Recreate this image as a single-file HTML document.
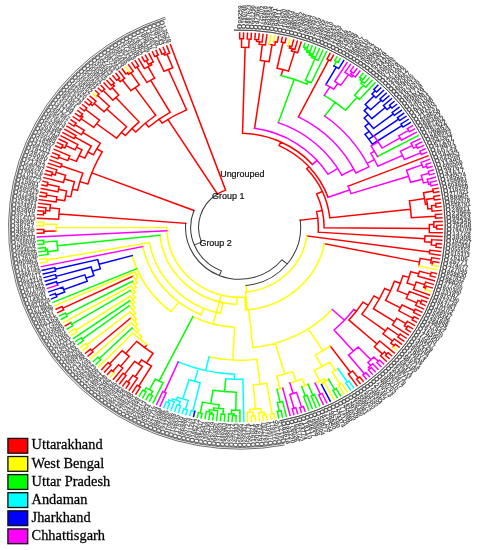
<!DOCTYPE html>
<html><head><meta charset="utf-8"><style>
html,body{margin:0;padding:0;background:#fff;width:477px;height:550px;overflow:hidden}
svg{display:block}
.ring text{font-family:"Liberation Sans",sans-serif;font-size:6px;fill:#454545;font-weight:bold}
.ring text.l{fill:#555}
.ring text.o{font-size:9px;fill:#555}
.ring text.ol{fill:#666}
.lab{font-family:"Liberation Sans",sans-serif;font-size:8.6px;fill:#111;stroke:#111;stroke-width:0.2px}
.leg{font-family:"Liberation Serif",serif;font-size:13.8px;fill:#000;stroke:#000;stroke-width:0.25px}
</style></head><body>
<svg width="477" height="550" viewBox="0 0 457.774 550" preserveAspectRatio="none">
<g fill="none" stroke-width="1.45" stroke-linecap="square">
<path stroke="#ff0000" d="M288.10,220.17L304.98,218.10M303.90,211.65A75.50,75.50 0 0 1 305.38,232.16M303.90,211.65L309.28,210.51M303.86,193.95A81.00,81.00 0 0 1 311.04,227.84M303.86,193.95L309.32,191.48M294.34,168.69A87.00,87.00 0 0 1 316.52,217.79M294.34,168.69L296.55,166.67M267.83,145.62A90.00,90.00 0 0 1 314.86,197.22M267.83,145.62L269.51,141.99M232.75,133.34A94.00,94.00 0 0 1 299.89,164.40M232.75,133.34L235.24,47.38M231.77,47.31A180.00,180.00 0 0 1 238.71,47.51M231.77,47.31L231.86,38.69M230.04,38.69A188.61,188.61 0 0 1 233.67,38.72M230.04,38.69L230.04,33.00M233.67,38.72L233.78,33.04M238.71,47.51L239.11,39.16M237.29,39.08A188.36,188.36 0 0 1 240.92,39.26M237.29,39.08L237.52,33.14M240.92,39.26L241.26,33.32M244.32,128.32L254.03,61.02M249.82,60.47A168.00,168.00 0 0 1 258.23,61.68M249.82,60.47L251.70,44.56M248.62,44.22A184.02,184.02 0 0 1 254.78,44.96M248.62,44.22L248.88,41.70M246.19,41.45A186.55,186.55 0 0 1 251.56,41.99M246.19,41.45L246.35,39.65M244.54,39.51A188.35,188.35 0 0 1 248.16,39.82M244.54,39.51L245.00,33.58M248.16,39.82L248.73,33.90M251.56,41.99L252.45,34.30M254.78,44.96L256.16,34.76M258.23,61.68L261.10,44.82M258.46,44.39A185.11,185.11 0 0 1 263.73,45.29M263.73,45.29L264.37,41.82M262.58,41.50A188.63,188.63 0 0 1 266.16,42.16M266.16,42.16L267.24,36.60M269.87,75.44L271.39,69.63M265.86,68.28A163.00,163.00 0 0 1 276.87,71.17M265.86,68.28L271.68,42.45M269.90,42.06A189.48,189.48 0 0 1 273.46,42.86M269.90,42.06L270.91,37.35M273.46,42.86L274.56,38.17M276.87,71.17L282.66,51.86M279.69,51.00A183.16,183.16 0 0 1 285.61,52.78M279.69,51.00L280.33,48.76M277.74,48.05A185.49,185.49 0 0 1 282.90,49.51M277.74,48.05L278.23,46.22M276.48,45.76A187.38,187.38 0 0 1 279.97,46.69M279.97,46.69L281.81,40.03M282.90,49.51L285.41,41.06M285.61,52.78L288.99,42.16M286.42,116.86L315.52,59.86M313.90,59.04A188.00,188.00 0 0 1 317.13,60.69M313.90,59.04L316.71,53.40M317.13,60.69L320.05,55.11M334.20,186.15L410.75,155.90M316.52,217.79L317.51,217.68M317.51,217.68L394.05,209.26M392.91,200.90A165.00,165.00 0 0 1 394.76,217.67M392.91,200.90L407.46,198.54M406.44,192.78A179.74,179.74 0 0 1 408.31,204.32M406.44,192.78L415.71,190.97M415.36,189.18A189.20,189.20 0 0 1 416.06,192.76M415.36,189.18L420.35,188.15M416.06,192.76L421.07,191.83M408.31,204.32L410.09,204.09M409.41,199.33A181.54,181.54 0 0 1 410.64,208.87M409.41,199.33L416.58,198.21M416.29,196.41A188.80,188.80 0 0 1 416.85,200.01M416.29,196.41L421.72,195.51M416.85,200.01L422.30,199.21M410.64,208.87L414.39,208.48M414.10,205.82A185.31,185.31 0 0 1 414.64,211.15M414.10,205.82L418.29,205.33M418.07,203.52A189.52,189.52 0 0 1 418.49,207.15M418.07,203.52L422.80,202.92M418.49,207.15L423.24,206.64M414.64,211.15L423.60,210.37M394.76,217.67L417.91,216.32M417.79,214.51A188.19,188.19 0 0 1 418.00,218.13M417.79,214.51L423.89,214.10M418.00,218.13L424.11,217.83M311.04,227.84L412.03,228.51M412.02,224.57A182.00,182.00 0 0 1 411.97,232.46M412.02,224.57L416.38,224.50M416.32,221.81A186.36,186.36 0 0 1 416.40,227.19M416.32,221.81L424.25,221.58M416.40,227.19L418.99,227.19M418.98,225.37A188.95,188.95 0 0 1 418.98,229.01M418.98,225.37L424.33,225.32M418.98,229.01L424.33,229.06M411.97,232.46L424.26,232.80M305.38,232.16L407.67,238.77M407.84,235.77A178.00,178.00 0 0 1 407.45,241.76M407.84,235.77L424.12,236.55M407.45,241.76L414.12,242.30M414.32,239.64A184.70,184.70 0 0 1 413.89,244.96M414.32,239.64L423.90,240.28M413.89,244.96L418.55,245.41M418.71,243.59A189.38,189.38 0 0 1 418.36,247.22M418.71,243.59L423.62,244.01M418.36,247.22L423.26,247.74M294.45,236.00L412.38,251.94M412.61,250.18A184.00,184.00 0 0 1 412.14,253.69M412.61,250.18L422.83,251.46M412.14,253.69L422.33,255.17M311.40,243.73L402.55,262.15M403.27,258.40A176.00,176.00 0 0 1 401.76,265.88M403.27,258.40L413.87,260.30M414.32,257.65A186.77,186.77 0 0 1 413.37,262.96M414.32,257.65L421.76,258.87M413.37,262.96L415.15,263.30M415.49,261.52A188.58,188.58 0 0 1 414.80,265.09M415.49,261.52L421.11,262.56M339.59,309.56L341.99,311.36M348.37,302.12A140.00,140.00 0 0 1 334.89,320.07M348.37,302.12L353.44,305.32M358.86,296.01A146.00,146.00 0 0 1 347.35,314.21M358.86,296.01L364.15,298.83M369.16,288.52A152.00,152.00 0 0 1 358.38,308.73M369.16,288.52L374.65,290.94M378.57,281.19A158.00,158.00 0 0 1 370.10,300.42M378.57,281.19L384.21,283.23M386.75,275.65A164.00,164.00 0 0 1 381.30,290.68M386.75,275.65L392.48,277.42M394.13,271.72A170.00,170.00 0 0 1 390.63,283.06M394.13,271.72L401.86,273.81M402.51,271.32A178.00,178.00 0 0 1 401.17,276.29M402.51,271.32L413.43,274.11M413.88,272.34A189.27,189.27 0 0 1 412.97,275.87M413.88,272.34L418.76,273.54M412.97,275.87L417.83,277.16M401.17,276.29L416.84,280.77M390.63,283.06L398.19,285.68M399.42,282.03A178.00,178.00 0 0 1 396.89,289.32M399.42,282.03L407.56,284.66M408.37,282.09A186.56,186.56 0 0 1 406.71,287.22M408.37,282.09L415.77,284.36M406.71,287.22L408.42,287.79M408.99,286.07A188.36,188.36 0 0 1 407.83,289.51M408.99,286.07L414.64,287.93M396.89,289.32L412.16,294.99M381.30,290.68L391.44,294.93M392.87,291.42A175.00,175.00 0 0 1 389.94,298.42M392.87,291.42L410.83,298.49M389.94,298.42L399.99,302.89M401.07,300.42A186.00,186.00 0 0 1 398.88,305.33M401.07,300.42L404.21,301.77M404.92,300.09A189.42,189.42 0 0 1 403.48,303.44M404.92,300.09L409.42,301.96M403.48,303.44L407.95,305.40M398.88,305.33L406.41,308.82M370.10,300.42L384.29,307.82M385.81,304.83A174.00,174.00 0 0 1 382.71,310.78M385.81,304.83L397.74,310.77M398.53,309.15A187.32,187.32 0 0 1 396.93,312.38M398.53,309.15L404.81,312.20M396.93,312.38L403.14,315.55M382.71,310.78L396.48,318.31M397.35,316.70A189.70,189.70 0 0 1 395.60,319.91M397.35,316.70L401.41,318.87M395.60,319.91L399.61,322.15M358.38,308.73L378.65,321.59M380.66,318.35A176.00,176.00 0 0 1 376.57,324.79M380.66,318.35L389.45,323.67M390.83,321.35A186.28,186.28 0 0 1 388.05,325.96M390.83,321.35L397.75,325.40M388.05,325.96L390.52,327.50M391.48,325.95A189.19,189.19 0 0 1 389.55,329.04M391.48,325.95L395.83,328.61M389.55,329.04L393.85,331.79M376.57,324.79L391.81,334.93M347.35,314.21L369.85,330.88M372.06,327.83A174.00,174.00 0 0 1 367.57,333.89M372.06,327.83L382.92,335.52M383.96,334.04A187.31,187.31 0 0 1 381.87,336.99M383.96,334.04L389.70,338.02M381.87,336.99L387.54,341.08M367.57,333.89L376.71,340.97M378.34,338.84A185.56,185.56 0 0 1 375.05,343.08M378.34,338.84L385.32,344.09M375.05,343.08L378.21,345.60M379.34,344.16A189.60,189.60 0 0 1 377.06,347.02M379.34,344.16L383.04,347.06M334.89,320.07L361.85,343.92M364.35,341.04A176.00,176.00 0 0 1 359.29,346.75M364.35,341.04L378.31,352.87M359.29,346.75L367.00,353.88M368.82,351.89A186.50,186.50 0 0 1 365.16,355.84M368.82,351.89L371.18,354.01M372.40,352.65A189.68,189.68 0 0 1 369.96,355.36M372.40,352.65L375.87,355.70M369.96,355.36L373.37,358.49M365.16,355.84L370.81,361.22M316.89,345.90L336.39,372.52M338.48,370.97A180.00,180.00 0 0 1 334.28,374.04M338.48,370.97L343.79,378.00M345.23,376.90A188.81,188.81 0 0 1 342.33,379.09M345.23,376.90L348.58,381.25M342.33,379.09L345.59,383.50M334.28,374.04L342.56,385.70M141.07,344.70L138.83,347.64M146.92,353.37A151.00,151.00 0 0 1 131.14,341.40M146.92,353.37L140.57,363.00M145.36,366.05A162.54,162.54 0 0 1 135.88,359.80M145.36,366.05L133.14,386.07M134.68,386.99A186.00,186.00 0 0 1 131.62,385.13M134.68,386.99L130.42,394.12M131.62,385.13L127.22,392.17M135.88,359.80L132.93,363.96M136.58,366.48A167.65,167.65 0 0 1 129.34,361.34M136.58,366.48L129.70,376.74M131.87,378.17A180.00,180.00 0 0 1 127.55,375.27M131.87,378.17L124.07,390.16M127.55,375.27L122.84,382.07M124.34,383.09A188.26,188.26 0 0 1 121.36,381.03M124.34,383.09L120.95,388.09M121.36,381.03L117.87,385.95M129.34,361.34L119.52,374.41M120.94,375.47A184.00,184.00 0 0 1 118.11,373.34M120.94,375.47L114.84,383.76M118.11,373.34L111.84,381.52M131.14,341.40L120.62,353.54M124.00,356.39A167.06,167.06 0 0 1 117.31,350.60M124.00,356.39L115.79,366.39M117.81,368.03A180.00,180.00 0 0 1 113.79,364.73M117.81,368.03L108.89,379.21M113.79,364.73L108.27,371.25M109.67,372.42A188.54,188.54 0 0 1 106.89,370.07M106.89,370.07L103.13,374.43M117.31,350.60L105.21,363.84M106.53,365.03A185.00,185.00 0 0 1 103.90,362.63M106.53,365.03L100.32,371.96M103.90,362.63L97.56,369.43M125.80,317.73L88.03,350.49M89.22,351.86A188.00,188.00 0 0 1 86.85,349.12M89.22,351.86L84.50,356.03M86.85,349.12L82.05,353.20M67.98,322.59L62.55,325.78M127.85,276.01L60.33,308.20M61.12,309.83A188.00,188.00 0 0 1 59.56,306.56M61.12,309.83L55.46,312.59M59.56,306.56L53.85,309.22M54.08,230.99L42.08,231.24M42.13,233.05A188.00,188.00 0 0 1 42.05,229.43M42.13,233.05L35.83,233.24M42.05,229.43L35.75,229.50M178.19,223.32L56.55,213.99M56.23,219.22A174.00,174.00 0 0 1 57.03,208.77M56.23,219.22L35.95,218.27M57.03,208.77L48.05,207.81M47.75,210.88A183.03,183.03 0 0 1 48.41,204.75M47.75,210.88L43.82,210.53M43.59,213.22A186.97,186.97 0 0 1 44.08,207.84M43.59,213.22L41.78,213.09M41.66,214.90A188.79,188.79 0 0 1 41.93,211.27M41.66,214.90L36.16,214.54M41.93,211.27L36.44,210.80M44.08,207.84L36.79,207.08M48.41,204.75L37.22,203.36M186.16,210.46L88.13,172.83M84.35,183.97A152.00,152.00 0 0 1 98.08,151.85M84.35,183.97L76.68,181.68M74.37,190.34A160.00,160.00 0 0 1 79.47,173.17M74.37,190.34L69.50,189.18M67.89,196.76A165.00,165.00 0 0 1 71.47,181.69M67.89,196.76L62.98,195.84M62.14,200.68A170.00,170.00 0 0 1 63.95,191.02M62.14,200.68L54.23,199.42M53.85,201.97A178.00,178.00 0 0 1 54.66,196.89M53.85,201.97L37.72,199.65M54.66,196.89L44.57,195.14M44.27,196.93A188.24,188.24 0 0 1 44.89,193.35M44.27,196.93L38.28,195.95M44.89,193.35L38.92,192.26M63.95,191.02L56.14,189.32M55.61,191.83A178.00,178.00 0 0 1 56.71,186.81M55.61,191.83L39.63,188.58M56.71,186.81L45.52,184.19M45.12,185.97A189.48,189.48 0 0 1 45.95,182.42M45.12,185.97L40.42,184.92M45.95,182.42L41.27,181.28M71.47,181.69L61.86,178.93M60.85,182.58A175.00,175.00 0 0 1 62.95,175.29M60.85,182.58L42.19,177.65M62.95,175.29L53.75,172.43M52.98,174.98A184.63,184.63 0 0 1 54.57,169.89M52.98,174.98L49.79,174.04M49.29,175.78A187.95,187.95 0 0 1 50.31,172.31M49.29,175.78L43.18,174.04M50.31,172.31L44.24,170.45M54.57,169.89L45.37,166.88M79.47,173.17L58.77,165.73M58.18,167.38A182.00,182.00 0 0 1 59.37,164.08M58.18,167.38L46.57,163.33M59.37,164.08L47.84,159.81M98.08,151.85L92.88,148.87M89.67,154.77A158.00,158.00 0 0 1 96.33,143.13M89.67,154.77L84.34,152.01M81.34,158.13A164.00,164.00 0 0 1 87.59,146.03M81.34,158.13L75.90,155.60M73.33,161.40A170.00,170.00 0 0 1 78.68,149.89M73.33,161.40L65.96,158.30M64.98,160.68A178.00,178.00 0 0 1 66.97,155.93M64.98,160.68L56.21,157.14M55.54,158.81A187.46,187.46 0 0 1 56.89,155.46M55.54,158.81L49.17,156.31M56.89,155.46L50.57,152.84M66.97,155.93L52.04,149.40M78.68,149.89L73.34,147.16M72.01,149.82A176.00,176.00 0 0 1 74.71,144.53M72.01,149.82L63.38,145.58M62.22,148.00A185.61,185.61 0 0 1 64.58,143.18M62.22,148.00L59.53,146.73M58.76,148.37A188.59,188.59 0 0 1 60.31,145.09M58.76,148.37L53.57,145.98M60.31,145.09L55.17,142.60M64.58,143.18L56.84,139.25M74.71,144.53L58.56,135.93M87.59,146.03L71.96,137.11M71.10,138.63A182.00,182.00 0 0 1 72.84,135.59M71.10,138.63L60.36,132.64M72.84,135.59L62.21,129.39M96.33,143.13L79.40,132.47M78.05,134.66A178.00,178.00 0 0 1 80.79,130.30M78.05,134.66L64.13,126.17M80.79,130.30L72.02,124.61M71.04,126.13A188.46,188.46 0 0 1 73.02,123.09M71.04,126.13L66.11,123.00M73.02,123.09L68.15,119.86M208.76,194.02A39.50,39.50 0 0 1 216.53,190.18M208.76,194.02L161.08,119.47M155.57,123.19A128.00,128.00 0 0 1 179.10,109.87M155.57,123.19L152.66,119.12M142.77,126.94A133.00,133.00 0 0 1 163.25,112.28M142.77,126.94L139.49,123.16M130.29,131.93A138.00,138.00 0 0 1 149.45,115.28M130.29,131.93L126.68,128.48M120.36,135.54A143.00,143.00 0 0 1 133.44,121.86M120.36,135.54L116.53,132.33M111.87,138.19A148.00,148.00 0 0 1 121.48,126.71M111.87,138.19L92.71,123.74M90.02,127.41A172.00,172.00 0 0 1 95.50,120.14M90.02,127.41L77.86,118.74M76.30,120.95A186.94,186.94 0 0 1 79.44,116.55M76.30,120.95L70.25,116.76M79.44,116.55L77.99,115.48M76.92,116.95A188.74,188.74 0 0 1 79.07,114.02M76.92,116.95L72.41,113.70M79.07,114.02L74.63,110.68M95.50,120.14L82.09,109.45M80.96,110.88A189.15,189.15 0 0 1 83.23,108.03M80.96,110.88L76.90,107.71M83.23,108.03L79.23,104.78M121.48,126.71L102.40,109.04M99.87,111.83A174.00,174.00 0 0 1 105.00,106.30M99.87,111.83L90.34,103.38M88.57,105.41A186.74,186.74 0 0 1 92.15,101.38M88.57,105.41L86.79,103.88M85.60,105.27A189.09,189.09 0 0 1 87.98,102.51M85.60,105.27L81.62,101.90M87.98,102.51L84.06,99.06M92.15,101.38L86.56,96.28M105.00,106.30L93.73,95.40M92.47,96.72A189.67,189.67 0 0 1 95.01,94.10M95.01,94.10L91.72,90.85M133.44,121.86L111.15,97.52M108.37,100.13A176.00,176.00 0 0 1 113.99,94.98M108.37,100.13L99.13,90.48M97.82,91.75A189.36,189.36 0 0 1 100.46,89.22M97.82,91.75L94.37,88.21M100.46,89.22L97.08,85.62M113.99,94.98L107.70,87.80M105.70,89.59A185.54,185.54 0 0 1 109.73,86.05M105.70,89.59L99.83,83.08M109.73,86.05L108.21,84.26M106.84,85.44A187.89,187.89 0 0 1 109.59,83.09M106.84,85.44L102.63,80.60M109.59,83.09L105.48,78.17M149.45,115.28L129.59,87.68M125.60,90.64A172.00,172.00 0 0 1 133.67,84.83M125.60,90.64L117.45,79.97M115.33,81.61A185.43,185.43 0 0 1 119.59,78.36M115.33,81.61L113.43,79.19M112.01,80.32A188.50,188.50 0 0 1 114.86,78.08M112.01,80.32L108.38,75.80M114.86,78.08L111.32,73.49M119.59,78.36L114.31,71.23M133.67,84.83L125.59,72.88M123.37,74.40A186.43,186.43 0 0 1 127.83,71.39M123.37,74.40L122.34,72.93M120.85,73.97A188.23,188.23 0 0 1 123.83,71.90M120.85,73.97L117.33,69.03M127.83,71.39L123.51,64.80M163.25,112.28L144.67,80.29M140.98,82.49A170.00,170.00 0 0 1 148.42,78.18M140.98,82.49L131.46,67.01M129.92,67.97A188.18,188.18 0 0 1 133.01,66.07M129.92,67.97L126.66,62.78M133.01,66.07L129.85,60.82M148.42,78.18L142.09,66.62M138.63,68.57A183.17,183.17 0 0 1 145.60,64.75M138.63,68.57L133.08,58.92M145.60,64.75L144.77,63.16M142.40,64.41A184.97,184.97 0 0 1 147.15,61.94M142.40,64.41L140.41,60.70M138.81,61.58A189.17,189.17 0 0 1 142.02,59.85M138.81,61.58L136.34,57.08M142.02,59.85L139.64,55.31M147.15,61.94L142.97,53.60M179.10,109.87L161.59,69.51M157.44,71.37A172.00,172.00 0 0 1 165.80,67.75M157.44,71.37L150.18,55.78M148.53,56.56A189.20,189.20 0 0 1 151.83,55.02M148.53,56.56L146.33,51.96M151.83,55.02L149.72,50.38M165.80,67.75L160.31,54.12M157.82,55.15A186.69,186.69 0 0 1 162.82,53.13M157.82,55.15L157.12,53.49M155.45,54.20A188.49,188.49 0 0 1 158.80,52.80M155.45,54.20L153.15,48.86M158.80,52.80L156.60,47.41M162.82,53.13L160.08,46.03M216.53,190.18L163.58,44.72"/>
<path stroke="#ffff00" d="M258.46,44.39L259.87,35.30M262.58,41.50L263.56,35.91M276.48,45.76L278.20,39.06M236.15,285.48L236.83,291.94M294.45,236.00A65.00,65.00 0 0 1 235.70,292.05M235.70,292.05L237.27,309.98M311.40,243.73A83.00,83.00 0 0 1 235.83,310.10M414.80,265.09L420.40,266.23M401.76,265.88L419.61,269.89M238.71,309.85L242.69,347.64M318.88,309.44A121.00,121.00 0 0 1 242.69,347.64M407.83,289.51L413.43,291.47M377.06,347.02L380.70,349.99M295.77,328.89L299.58,334.76M299.58,334.76L309.90,350.72M316.89,345.90A147.00,147.00 0 0 1 302.63,355.12M302.63,355.12L309.05,366.43M316.31,362.05A160.00,160.00 0 0 1 301.58,370.42M316.31,362.05L321.66,370.40M324.40,368.61A169.92,169.92 0 0 1 318.89,372.14M318.89,372.14L326.25,384.14M327.76,383.21A184.00,184.00 0 0 1 324.73,385.06M327.76,383.21L333.23,391.94M324.73,385.06L330.03,393.89M301.58,370.42L306.91,381.10M311.33,378.81A171.94,171.94 0 0 1 302.44,383.25M311.33,378.81L312.47,380.95M315.42,379.33A174.36,174.36 0 0 1 309.50,382.51M309.50,382.51L310.10,383.68M311.60,382.90A175.68,175.68 0 0 1 308.59,384.45M311.60,382.90L320.24,399.39M264.23,343.37L273.28,374.06M280.82,371.63A153.00,153.00 0 0 1 265.62,376.10M280.82,371.63L284.14,381.06M290.02,378.86A163.00,163.00 0 0 1 278.17,383.03M290.02,378.86L292.66,385.54M295.70,384.30A170.18,170.18 0 0 1 289.60,386.72M265.62,376.10L268.65,388.75M271.36,388.07A166.00,166.00 0 0 1 265.92,389.38M235.83,310.10L234.92,297.13M234.92,297.13A70.00,70.00 0 0 1 160.04,227.42M212.18,294.98L204.53,323.99M225.06,327.18A100.00,100.00 0 0 1 185.10,316.63M225.06,327.18L223.42,360.14M246.48,359.28A133.00,133.00 0 0 1 200.56,356.99M246.48,359.28L249.57,384.09M255.97,383.16A158.00,158.00 0 0 1 243.14,384.76M255.97,383.16L261.14,414.18M262.94,413.87A189.45,189.45 0 0 1 259.34,414.47M262.94,413.87L263.78,418.65M259.34,414.47L260.09,419.26M243.14,384.76L245.16,408.99M250.40,408.48A182.32,182.32 0 0 1 239.90,409.35M250.40,408.48L250.86,412.57M253.54,412.25A186.44,186.44 0 0 1 248.18,412.85M253.54,412.25L253.87,414.88M255.67,414.64A189.08,189.08 0 0 1 252.06,415.10M255.67,414.64L256.38,419.81M252.06,415.10L252.67,420.28M248.18,412.85L248.95,420.68M239.90,409.35L240.05,412.06M242.72,411.90A185.03,185.03 0 0 1 237.38,412.19M242.72,411.90L242.99,415.85M244.80,415.72A189.00,189.00 0 0 1 241.17,415.97M244.80,415.72L245.22,421.01M241.17,415.97L241.48,421.26M237.38,412.19L237.74,421.45M227.60,297.26L227.35,304.25M227.35,304.25A77.00,77.00 0 0 1 153.46,235.39M214.03,302.62L211.74,313.38M211.74,313.38A88.00,88.00 0 0 1 143.38,242.63M195.65,308.30L192.92,314.75M192.92,314.75A95.00,95.00 0 0 1 137.01,246.55M171.55,302.16L164.16,311.62M164.16,311.62A107.00,107.00 0 0 1 126.84,255.55M133.58,273.61A107.00,107.00 0 0 1 131.35,268.64M133.58,273.61L130.78,274.95M132.34,278.07A110.10,110.10 0 0 1 129.33,271.79M132.34,278.07L129.59,279.50M131.45,282.93A113.20,113.20 0 0 1 127.85,276.01M131.45,282.93L128.75,284.45M130.53,287.50A116.30,116.30 0 0 1 127.06,281.35M130.53,287.50L127.88,289.11M129.90,292.32A119.40,119.40 0 0 1 125.97,285.82M129.90,292.32L127.30,294.01M129.68,297.54A122.50,122.50 0 0 1 125.04,290.40M129.68,297.54L127.14,299.32M129.42,302.47A125.60,125.60 0 0 1 124.96,296.10M129.42,302.47L126.93,304.32M129.53,307.69A128.70,128.70 0 0 1 124.45,300.88M129.53,307.69L127.11,309.62M130.23,313.38A131.80,131.80 0 0 1 124.13,305.75M130.23,313.38L127.89,315.41M131.10,319.00A134.90,134.90 0 0 1 124.81,311.71M131.10,319.00L128.82,321.10M131.96,324.38A138.00,138.00 0 0 1 125.80,317.73M131.96,324.38L129.76,326.56M133.48,330.18A141.10,141.10 0 0 1 126.17,322.80M133.48,330.18L131.35,332.44M136.15,336.75A144.20,144.20 0 0 1 126.75,327.93M136.15,336.75L134.13,339.10M141.07,344.70A147.30,147.30 0 0 1 127.55,333.10M109.67,372.42L105.99,376.85M127.55,333.10L94.84,366.85M126.17,322.80L87.01,358.81M124.81,311.71L83.39,344.93M84.53,346.34A188.00,188.00 0 0 1 82.26,343.51M84.53,346.34L79.65,350.33M82.26,343.51L77.31,347.41M124.96,296.10L72.75,330.28M73.75,331.79A188.00,188.00 0 0 1 71.77,328.76M73.75,331.79L68.51,335.29M71.77,328.76L66.46,332.16M125.97,285.82L60.68,322.54M129.33,271.79L52.30,305.81M143.38,242.63L44.91,260.05M45.24,261.83A188.00,188.00 0 0 1 44.61,258.27M45.24,261.83L39.04,262.99M44.61,258.27L38.39,259.30M160.04,227.42L54.04,227.60M54.08,230.99A176.00,176.00 0 0 1 54.07,224.21M54.07,224.21L42.07,224.00M42.04,225.81A188.00,188.00 0 0 1 42.11,222.19M42.04,225.81L35.74,225.76M42.11,222.19L35.81,222.02M92.47,96.72L89.11,93.54M123.83,71.90L120.40,66.89"/>
<path stroke="#00ff00" d="M267.09,122.67L282.44,79.30M269.87,75.44A157.00,157.00 0 0 1 294.65,84.21M294.65,84.21L295.89,81.48M293.11,80.26A160.00,160.00 0 0 1 298.64,82.75M293.11,80.26L302.25,58.96M299.09,57.64A183.18,183.18 0 0 1 305.38,60.33M299.09,57.64L299.77,55.97M296.67,54.74A184.98,184.98 0 0 1 302.85,57.26M296.67,54.74L297.31,53.06M294.37,51.95A186.78,186.78 0 0 1 300.24,54.22M294.37,51.95L294.99,50.26M292.42,49.34A188.58,188.58 0 0 1 297.54,51.22M292.42,49.34L293.02,47.64M291.28,47.04A190.38,190.38 0 0 1 294.75,48.26M291.28,47.04L292.55,43.33M294.75,48.26L296.08,44.57M297.54,51.22L299.59,45.87M300.24,54.22L303.07,47.25M302.85,57.26L306.52,48.69M305.38,60.33L309.95,50.19M298.64,82.75L313.35,51.77M311.68,116.04L321.74,102.34M311.33,95.33A155.00,155.00 0 0 1 331.55,110.17M320.44,65.89L322.89,61.53M321.28,60.64A190.00,190.00 0 0 1 324.48,62.43M321.28,60.64L323.35,56.87M324.48,62.43L326.62,58.70M331.55,110.17L342.68,97.32M340.32,95.31A172.00,172.00 0 0 1 345.01,99.37M340.32,95.31L348.71,85.27M346.29,83.29A185.08,185.08 0 0 1 351.08,87.29M346.29,83.29L347.67,81.58M345.55,79.89A187.28,187.28 0 0 1 349.77,83.29M345.55,79.89L346.66,78.48M345.23,77.36A189.08,189.08 0 0 1 348.09,79.61M345.23,77.36L348.41,73.22M348.09,79.61L351.35,75.53M349.77,83.29L354.26,77.89M351.08,87.29L357.11,80.31M345.01,99.37L359.92,82.79M362.26,156.46L401.30,135.54M315.42,379.33L321.11,389.48M322.67,388.59A186.00,186.00 0 0 1 319.55,390.35M322.67,388.59L326.81,395.79M319.55,390.35L323.54,397.62M295.70,384.30L300.26,395.21M301.87,394.52A182.00,182.00 0 0 1 298.64,395.88M301.87,394.52L306.73,405.83M298.64,395.88L303.27,407.27M289.60,386.72L293.04,395.92M294.66,395.30A180.00,180.00 0 0 1 291.41,396.51M294.66,395.30L299.79,408.65M291.41,396.51L296.29,409.96M265.92,389.38L268.73,402.07M271.25,401.49A179.00,179.00 0 0 1 266.20,402.61M271.25,401.49L274.78,416.38M266.20,402.61L267.94,411.05M269.71,410.68A187.62,187.62 0 0 1 266.17,411.41M269.71,410.68L271.12,417.21M266.17,411.41L267.46,417.96M216.64,378.71L215.49,391.66M226.65,392.27A165.00,165.00 0 0 1 204.40,390.30M226.65,392.27L226.28,410.13M230.25,410.17A182.87,182.87 0 0 1 222.32,410.01M230.25,410.17L230.26,421.60M222.32,410.01L222.16,413.84M224.85,413.93A186.71,186.71 0 0 1 219.46,413.71M224.85,413.93L224.80,415.73M226.62,415.77A188.51,188.51 0 0 1 222.99,415.67M226.62,415.77L226.52,421.57M222.99,415.67L222.77,421.46M219.46,413.71L219.03,421.29M204.40,390.30L202.31,403.59M210.30,404.66A178.45,178.45 0 0 1 194.38,402.16M210.30,404.66L209.88,408.41M214.46,408.86A182.23,182.23 0 0 1 205.31,407.85M214.46,408.86L214.01,414.11M215.81,414.26A187.50,187.50 0 0 1 212.22,413.95M215.81,414.26L215.30,421.04M212.22,413.95L211.57,420.72M205.31,407.85L204.98,410.20M208.95,410.70A184.61,184.61 0 0 1 201.02,409.62M208.95,410.70L207.85,420.33M201.02,409.62L200.67,411.82M203.34,412.23A186.84,186.84 0 0 1 198.01,411.38M203.34,412.23L203.09,414.01M204.89,414.26A188.64,188.64 0 0 1 201.29,413.74M204.89,414.26L204.13,419.87M201.29,413.74L200.43,419.33M198.01,411.38L196.73,418.72M194.38,402.16L192.16,413.03M193.95,413.39A189.55,189.55 0 0 1 190.38,412.66M193.95,413.39L193.05,418.05M190.38,412.66L189.38,417.30M185.10,316.63L176.56,333.61M176.56,333.61L152.74,380.95M156.47,382.77A172.00,172.00 0 0 1 149.07,379.05M156.47,382.77L146.93,402.93M149.07,379.05L143.43,389.60M146.58,391.24A183.96,183.96 0 0 1 140.32,387.90M146.58,391.24L144.74,394.85M146.36,395.67A188.02,188.02 0 0 1 143.13,394.02M146.36,395.67L143.56,401.29M143.13,394.02L140.22,399.60M140.32,387.90L138.65,390.89M140.23,391.77A187.39,187.39 0 0 1 137.08,390.01M140.23,391.77L136.92,397.83M137.08,390.01L133.65,396.01M126.75,327.93L95.38,358.49M96.65,359.78A188.00,188.00 0 0 1 94.12,357.19M96.65,359.78L92.18,364.22M94.12,357.19L89.57,361.54M124.13,305.75L78.96,339.20M80.05,340.65A188.00,188.00 0 0 1 77.89,337.73M80.05,340.65L75.02,344.44M77.89,337.73L72.79,341.44M124.45,300.88L70.62,338.38M125.04,290.40L68.90,324.15M69.84,325.69A188.00,188.00 0 0 1 67.98,322.59M69.84,325.69L64.47,328.99M127.06,281.35L63.58,314.68M64.43,316.27A188.00,188.00 0 0 1 62.74,313.07M64.43,316.27L58.88,319.26M62.74,313.07L57.14,315.94M131.35,268.64L50.82,302.37M153.46,235.39L55.01,245.79M55.56,250.42A176.00,176.00 0 0 1 54.58,241.15M55.56,250.42L45.78,251.72M46.15,254.38A185.87,185.87 0 0 1 45.44,249.05M46.15,254.38L37.81,255.61M45.44,249.05L43.65,249.26M43.87,251.06A187.67,187.67 0 0 1 43.45,247.47M43.87,251.06L37.30,251.90M43.45,247.47L36.86,248.18M54.58,241.15L41.92,242.15M42.08,243.96A188.70,188.70 0 0 1 41.79,240.33M42.08,243.96L36.50,244.45M41.79,240.33L36.20,240.72"/>
<path stroke="#00ffff" d="M324.40,368.61L333.33,381.98M334.82,380.98A186.00,186.00 0 0 1 331.84,382.97M334.82,380.98L339.49,387.84M331.84,382.97L336.38,389.92M200.56,356.99L197.45,370.64M225.05,374.22A147.00,147.00 0 0 1 171.03,361.93M225.05,374.22L224.88,379.21M233.14,379.27A152.00,152.00 0 0 1 216.64,378.71M233.14,379.27L234.00,421.56M190.26,368.82L186.74,381.33M192.05,382.73A160.00,160.00 0 0 1 181.48,379.75M192.05,382.73L185.16,410.92M186.93,411.34A189.02,189.02 0 0 1 183.40,410.48M183.40,410.48L182.09,415.59M181.48,379.75L175.38,398.92M180.57,400.49A180.11,180.11 0 0 1 170.24,397.19M180.57,400.49L178.00,409.49M179.75,409.98A189.48,189.48 0 0 1 176.24,408.98M179.75,409.98L178.47,414.63M176.24,408.98L174.88,413.60M170.24,397.19L169.18,400.19M172.95,401.47A183.29,183.29 0 0 1 165.45,398.83M172.95,401.47L171.68,405.33M173.40,405.88A187.35,187.35 0 0 1 169.97,404.76M173.40,405.88L171.30,412.51M169.97,404.76L167.74,411.34M165.45,398.83L164.70,400.84M167.21,401.76A185.43,185.43 0 0 1 162.19,399.88M167.21,401.76L164.21,410.11M162.19,399.88L161.15,402.53M162.84,403.19A188.28,188.28 0 0 1 159.47,401.86M162.84,403.19L160.70,408.80M159.47,401.86L157.21,407.44"/>
<path stroke="#0000ff" d="M312.74,84.52L322.77,67.22M320.44,65.89A185.00,185.00 0 0 1 325.07,68.57M325.07,68.57L329.85,60.59M358.80,135.73L353.91,139.21M350.33,134.38A152.00,152.00 0 0 1 357.30,144.18M350.33,134.38L354.28,131.32M350.28,126.35A157.00,157.00 0 0 1 358.08,136.45M350.28,126.35L354.11,123.14M349.55,117.93A162.00,162.00 0 0 1 358.45,128.54M349.55,117.93L353.24,114.55M349.51,110.61A167.00,167.00 0 0 1 356.84,118.62M349.51,110.61L353.08,107.12M350.45,104.48A172.00,172.00 0 0 1 355.66,109.81M350.45,104.48L358.85,95.91M356.94,94.06A184.00,184.00 0 0 1 360.73,97.78M356.94,94.06L360.04,90.80M358.72,89.56A188.50,188.50 0 0 1 361.35,92.06M358.72,89.56L362.68,85.32M361.35,92.06L365.39,87.90M360.73,97.78L368.05,90.53M355.66,109.81L365.88,100.25M364.65,98.95A186.00,186.00 0 0 1 367.10,101.56M364.65,98.95L370.66,93.22M367.10,101.56L373.22,95.95M356.84,118.62L369.74,107.56M368.00,105.55A184.00,184.00 0 0 1 371.46,109.59M368.00,105.55L375.72,98.73M371.46,109.59L375.00,106.64M373.83,105.25A188.60,188.60 0 0 1 376.15,108.04M373.83,105.25L378.17,101.56M376.15,108.04L380.57,104.44M358.45,128.54L377.47,113.90M376.37,112.49A186.00,186.00 0 0 1 378.56,115.33M376.37,112.49L382.90,107.36M378.56,115.33L385.19,110.33M358.08,136.45L382.55,119.09M381.50,117.62A187.00,187.00 0 0 1 383.58,120.56M381.50,117.62L387.41,113.34M383.58,120.56L389.58,116.40M357.30,144.18L385.77,125.59M384.78,124.10A186.00,186.00 0 0 1 386.74,127.10M384.78,124.10L391.68,119.49M386.74,127.10L393.73,122.62M308.59,384.45L316.91,401.10M186.93,411.34L185.73,416.48M126.84,255.55L95.01,264.27M96.36,268.88A140.00,140.00 0 0 1 93.82,259.61M96.36,268.88L88.72,271.25M90.10,275.49A148.00,148.00 0 0 1 87.46,266.98M90.10,275.49L82.54,278.09M83.67,281.28A156.00,156.00 0 0 1 81.47,274.88M83.67,281.28L61.16,289.58M62.07,292.02A180.00,180.00 0 0 1 60.27,287.14M62.07,292.02L53.81,295.20M54.47,296.89A188.86,188.86 0 0 1 53.17,293.50M54.47,296.89L49.41,298.90M53.17,293.50L48.07,295.41M60.27,287.14L46.79,291.89M81.47,274.88L54.81,283.42M55.36,285.11A184.00,184.00 0 0 1 54.27,281.73M54.27,281.73L44.44,284.78M87.46,266.98L53.74,276.36M54.22,278.06A183.00,183.00 0 0 1 53.27,274.66M54.22,278.06L43.36,281.19M53.27,274.66L42.36,277.59M93.82,259.61L52.95,269.31M53.37,271.01A182.00,182.00 0 0 1 52.56,267.60M53.37,271.01L41.43,273.96M52.56,267.60L40.56,270.32"/>
<path stroke="#ff00ff" d="M299.89,164.40L304.35,160.39M244.32,128.32A100.00,100.00 0 0 1 314.84,174.31M314.84,174.31L324.17,168.48M267.09,122.67A111.00,111.00 0 0 1 328.05,175.19M328.05,175.19L339.52,169.09M286.42,116.86A124.00,124.00 0 0 1 341.49,172.94M341.49,172.94L354.07,166.80M311.68,116.04A138.00,138.00 0 0 1 354.07,166.80M311.33,95.33L316.58,86.82M312.74,84.52A165.00,165.00 0 0 1 320.35,89.21M320.35,89.21L324.18,83.35M321.22,81.46A172.00,172.00 0 0 1 327.11,85.31M321.22,81.46L333.04,62.55M327.11,85.31L334.46,74.57M331.12,72.34A185.01,185.01 0 0 1 337.74,76.87M331.12,72.34L336.19,64.56M337.74,76.87L338.79,75.40M336.58,73.85A186.81,186.81 0 0 1 340.97,76.99M336.58,73.85L337.78,72.12M336.28,71.09A188.92,188.92 0 0 1 339.27,73.16M336.28,71.09L339.31,66.64M339.27,73.16L342.38,68.77M340.97,76.99L345.42,70.97M352.33,163.36L359.42,159.65M355.87,153.26A146.00,146.00 0 0 1 362.65,166.22M355.87,153.26L359.32,151.23M356.17,146.12A150.00,150.00 0 0 1 362.26,156.46M356.17,146.12L362.90,141.79M358.80,135.73A158.00,158.00 0 0 1 366.71,148.03M366.71,148.03L384.01,137.99M382.71,135.78A178.00,178.00 0 0 1 385.29,140.23M382.71,135.78L391.91,130.27M390.96,128.71A188.72,188.72 0 0 1 392.83,131.83M390.96,128.71L395.72,125.80M392.83,131.83L397.64,129.01M385.29,140.23L399.51,132.26M362.65,166.22L386.26,155.34M384.30,151.23A172.00,172.00 0 0 1 388.11,159.50M384.30,151.23L395.62,145.64M394.42,143.26A184.62,184.62 0 0 1 396.78,148.05M394.42,143.26L403.04,138.85M396.78,148.05L399.84,146.59M399.05,144.96A188.00,188.00 0 0 1 400.61,148.23M399.05,144.96L404.71,142.20M400.61,148.23L406.32,145.58M388.11,159.50L403.68,152.82M402.96,151.15A188.94,188.94 0 0 1 404.39,154.50M402.96,151.15L407.86,149.00M404.39,154.50L409.34,152.44M314.86,197.22L329.00,192.21M329.00,192.21L335.60,189.87M334.20,186.15A112.00,112.00 0 0 1 336.86,193.64M336.86,193.64L392.18,176.21M390.16,170.20A170.00,170.00 0 0 1 393.97,182.30M390.16,170.20L405.02,164.90M404.10,162.38A185.78,185.78 0 0 1 405.91,167.43M404.10,162.38L412.09,159.40M405.91,167.43L409.46,166.22M408.86,164.50A189.53,189.53 0 0 1 410.04,167.96M408.86,164.50L413.36,162.92M410.04,167.96L414.57,166.46M393.97,182.30L405.33,179.18M404.25,175.40A181.78,181.78 0 0 1 406.34,182.99M404.25,175.40L411.59,173.21M411.06,171.46A189.44,189.44 0 0 1 412.11,174.96M411.06,171.46L415.71,170.03M412.11,174.96L416.78,173.62M406.34,182.99L410.73,181.89M410.06,179.28A186.31,186.31 0 0 1 411.37,184.50M410.06,179.28L417.77,177.22M411.37,184.50L413.12,184.09M412.69,182.33A188.11,188.11 0 0 1 413.53,185.86M412.69,182.33L418.70,180.85M413.53,185.86L419.56,184.49M318.88,309.44L330.63,320.31M339.59,309.56A137.00,137.00 0 0 1 320.62,330.08M320.62,330.08L339.14,351.08M343.68,346.93A165.00,165.00 0 0 1 334.44,355.07M343.68,346.93L355.96,359.85M358.80,357.09A182.83,182.83 0 0 1 353.06,362.55M358.80,357.09L362.99,361.31M364.28,360.02A188.77,188.77 0 0 1 361.69,362.59M364.28,360.02L368.21,363.91M361.69,362.59L365.55,366.55M353.06,362.55L355.75,365.51M357.74,363.68A186.83,186.83 0 0 1 353.74,367.31M357.74,363.68L362.84,369.13M353.74,367.31L354.93,368.66M356.29,367.45A188.63,188.63 0 0 1 353.57,369.86M356.29,367.45L360.08,371.66M353.57,369.86L357.28,374.14M334.44,355.07L349.70,373.74M351.11,372.58A189.12,189.12 0 0 1 348.29,374.89M351.11,372.58L354.43,376.57M348.29,374.89L351.53,378.93M302.44,383.25L307.52,394.19M309.12,393.44A184.00,184.00 0 0 1 305.91,394.93M309.12,393.44L313.55,402.74M305.91,394.93L310.15,404.31M278.17,383.03L281.42,393.54M284.61,392.52A174.00,174.00 0 0 1 278.21,394.50M284.61,392.52L289.44,407.14M291.17,406.56A189.39,189.39 0 0 1 287.71,407.70M291.17,406.56L292.75,411.20M287.71,407.70L289.20,412.37M278.21,394.50L282.16,408.23M283.90,407.72A188.29,188.29 0 0 1 280.42,408.73M283.90,407.72L285.62,413.48M280.42,408.73L282.03,414.52M271.36,388.07L278.41,415.48M171.03,361.93L157.78,392.16M159.37,392.85A180.00,180.00 0 0 1 156.19,391.45M159.37,392.85L153.75,406.00M156.19,391.45L150.33,404.50M55.36,285.11L45.58,288.35M137.01,246.55L39.77,266.66M160.13,230.79L35.98,236.99"/>
<path stroke="#3a3a3a" stroke-width="1.0" d="M193.41,242.10A39.50,39.50 0 0 1 208.76,194.02M193.41,242.10L186.46,244.91M212.43,270.88A47.00,47.00 0 0 1 186.16,210.46M212.43,270.88L210.56,275.51M270.62,259.81A52.00,52.00 0 0 1 178.19,223.32M270.62,259.81L275.69,263.88M288.10,220.17A58.50,58.50 0 0 1 236.15,285.48"/>
</g>
<g fill="none" stroke="#444" stroke-width="0.75">
<path d="M224.53,30.08A197.30,197.30 0 0 1 268.36,420.84"/><path d="M224.53,30.08A197.30,197.30 0 0 1 268.36,420.84"/><path d="M272.81,443.31A220.20,220.20 0 0 1 159.08,18.85"/><path d="M273.14,444.97A221.90,221.90 0 0 1 158.53,17.24"/>
</g>
<g class="ring">
<text x="230.04" y="23.40" transform="rotate(-90.00 230.04 23.40)" dy="2.15" textLength="17.9" lengthAdjust="spacingAndGlyphs">98259</text>
<text class="o" x="230.04" y="26.40" transform="rotate(-90.00 230.04 26.40)" dy="2.35" text-anchor="middle">o</text>
<text x="233.97" y="23.44" transform="rotate(-88.90 233.97 23.44)" dy="2.15" textLength="18.4" lengthAdjust="spacingAndGlyphs">190748</text>
<text class="o" x="233.91" y="26.44" transform="rotate(-88.90 233.91 26.44)" dy="2.35" text-anchor="middle">o</text>
<text x="237.89" y="23.55" transform="rotate(-87.79 237.89 23.55)" dy="2.15" textLength="18.9" lengthAdjust="spacingAndGlyphs">887623</text>
<text class="o" x="237.78" y="26.55" transform="rotate(-87.79 237.78 26.55)" dy="2.35" text-anchor="middle">o</text>
<text x="241.82" y="23.74" transform="rotate(-86.69 241.82 23.74)" dy="2.15" textLength="18.5" lengthAdjust="spacingAndGlyphs">601290</text>
<text class="o" x="241.64" y="26.74" transform="rotate(-86.69 241.64 26.74)" dy="2.35" text-anchor="middle">o</text>
<text x="245.74" y="24.01" transform="rotate(-85.58 245.74 24.01)" dy="2.15" textLength="17.8" lengthAdjust="spacingAndGlyphs">47966</text>
<text class="o" x="245.51" y="27.00" transform="rotate(-85.58 245.51 27.00)" dy="2.35" text-anchor="middle">o</text>
<text x="249.65" y="24.35" transform="rotate(-84.48 249.65 24.35)" dy="2.15" textLength="18.7" lengthAdjust="spacingAndGlyphs">725102</text>
<text class="o" x="249.36" y="27.33" transform="rotate(-84.48 249.36 27.33)" dy="2.35" text-anchor="middle">o</text>
<text x="253.56" y="24.76" transform="rotate(-83.38 253.56 24.76)" dy="2.15" textLength="18.6" lengthAdjust="spacingAndGlyphs">646869</text>
<text class="o" x="253.21" y="27.74" transform="rotate(-83.38 253.21 27.74)" dy="2.35" text-anchor="middle">o</text>
<text x="257.45" y="25.25" transform="rotate(-82.27 257.45 25.25)" dy="2.15" textLength="19.2" lengthAdjust="spacingAndGlyphs">693504</text>
<text class="o" x="257.05" y="28.22" transform="rotate(-82.27 257.05 28.22)" dy="2.35" text-anchor="middle">o</text>
<text x="261.34" y="25.82" transform="rotate(-81.17 261.34 25.82)" dy="2.15" textLength="18.2" lengthAdjust="spacingAndGlyphs">58991</text>
<text class="o" x="260.88" y="28.78" transform="rotate(-81.17 260.88 28.78)" dy="2.35" text-anchor="middle">o</text>
<text x="265.22" y="26.46" transform="rotate(-80.06 265.22 26.46)" dy="2.15" textLength="17.9" lengthAdjust="spacingAndGlyphs">94411</text>
<text class="o" x="264.70" y="29.41" transform="rotate(-80.06 264.70 29.41)" dy="2.35" text-anchor="middle">o</text>
<text x="269.08" y="27.17" transform="rotate(-78.96 269.08 27.17)" dy="2.15" textLength="18.6" lengthAdjust="spacingAndGlyphs">151620</text>
<text class="o" x="268.51" y="30.12" transform="rotate(-78.96 268.51 30.12)" dy="2.35" text-anchor="middle">o</text>
<text x="272.93" y="27.96" transform="rotate(-77.86 272.93 27.96)" dy="2.15" textLength="19.0" lengthAdjust="spacingAndGlyphs">109906</text>
<text class="o" x="272.30" y="30.89" transform="rotate(-77.86 272.30 30.89)" dy="2.35" text-anchor="middle">o</text>
<text x="276.76" y="28.83" transform="rotate(-76.75 276.76 28.83)" dy="2.15" textLength="18.3" lengthAdjust="spacingAndGlyphs">848304</text>
<text class="o" x="276.07" y="31.75" transform="rotate(-76.75 276.07 31.75)" dy="2.35" text-anchor="middle">o</text>
<text x="280.58" y="29.76" transform="rotate(-75.65 280.58 29.76)" dy="2.15" textLength="17.8" lengthAdjust="spacingAndGlyphs">98036</text>
<text class="o" x="279.83" y="32.67" transform="rotate(-75.65 279.83 32.67)" dy="2.35" text-anchor="middle">o</text>
<text x="284.37" y="30.77" transform="rotate(-74.55 284.37 30.77)" dy="2.15" textLength="19.3" lengthAdjust="spacingAndGlyphs">205552</text>
<text class="o" x="283.57" y="33.66" transform="rotate(-74.55 283.57 33.66)" dy="2.35" text-anchor="middle">o</text>
<text x="288.15" y="31.86" transform="rotate(-73.44 288.15 31.86)" dy="2.15" textLength="18.5" lengthAdjust="spacingAndGlyphs">678698</text>
<text class="o" x="287.29" y="34.73" transform="rotate(-73.44 287.29 34.73)" dy="2.35" text-anchor="middle">o</text>
<text x="291.90" y="33.01" transform="rotate(-72.34 291.90 33.01)" dy="2.15" textLength="18.9" lengthAdjust="spacingAndGlyphs">463464</text>
<text class="o" x="290.99" y="35.87" transform="rotate(-72.34 290.99 35.87)" dy="2.35" text-anchor="middle">o</text>
<text x="295.63" y="34.24" transform="rotate(-71.23 295.63 34.24)" dy="2.15" textLength="18.8" lengthAdjust="spacingAndGlyphs">506950</text>
<text class="o" x="294.67" y="37.08" transform="rotate(-71.23 294.67 37.08)" dy="2.35" text-anchor="middle">o</text>
<text x="299.34" y="35.54" transform="rotate(-70.13 299.34 35.54)" dy="2.15" textLength="19.1" lengthAdjust="spacingAndGlyphs">205755</text>
<text class="o" x="298.32" y="38.36" transform="rotate(-70.13 298.32 38.36)" dy="2.35" text-anchor="middle">o</text>
<text x="303.02" y="36.91" transform="rotate(-69.03 303.02 36.91)" dy="2.15" textLength="18.8" lengthAdjust="spacingAndGlyphs">709005</text>
<text class="o" x="301.95" y="39.71" transform="rotate(-69.03 301.95 39.71)" dy="2.35" text-anchor="middle">o</text>
<text x="306.68" y="38.35" transform="rotate(-67.92 306.68 38.35)" dy="2.15" textLength="18.8" lengthAdjust="spacingAndGlyphs">499525</text>
<text class="o" x="305.55" y="41.13" transform="rotate(-67.92 305.55 41.13)" dy="2.35" text-anchor="middle">o</text>
<text x="310.30" y="39.86" transform="rotate(-66.82 310.30 39.86)" dy="2.15" textLength="19.6" lengthAdjust="spacingAndGlyphs">944610</text>
<text class="o" x="309.12" y="42.62" transform="rotate(-66.82 309.12 42.62)" dy="2.35" text-anchor="middle">o</text>
<text x="313.90" y="41.44" transform="rotate(-65.71 313.90 41.44)" dy="2.15" textLength="18.3" lengthAdjust="spacingAndGlyphs">48343</text>
<text class="o" x="312.67" y="44.18" transform="rotate(-65.71 312.67 44.18)" dy="2.35" text-anchor="middle">o</text>
<text x="317.46" y="43.09" transform="rotate(-64.61 317.46 43.09)" dy="2.15" textLength="19.2" lengthAdjust="spacingAndGlyphs">119553</text>
<text class="o" x="316.18" y="45.80" transform="rotate(-64.61 316.18 45.80)" dy="2.35" text-anchor="middle">o</text>
<text x="321.00" y="44.81" transform="rotate(-63.51 321.00 44.81)" dy="2.15" textLength="18.3" lengthAdjust="spacingAndGlyphs">15397</text>
<text class="o" x="319.66" y="47.50" transform="rotate(-63.51 319.66 47.50)" dy="2.35" text-anchor="middle">o</text>
<text x="324.50" y="46.60" transform="rotate(-62.40 324.50 46.60)" dy="2.15" textLength="18.3" lengthAdjust="spacingAndGlyphs">08359</text>
<text class="o" x="323.11" y="49.26" transform="rotate(-62.40 323.11 49.26)" dy="2.35" text-anchor="middle">o</text>
<text x="327.96" y="48.45" transform="rotate(-61.30 327.96 48.45)" dy="2.15" textLength="19.5" lengthAdjust="spacingAndGlyphs">519592</text>
<text class="o" x="326.52" y="51.08" transform="rotate(-61.30 326.52 51.08)" dy="2.35" text-anchor="middle">o</text>
<text x="331.39" y="50.37" transform="rotate(-60.19 331.39 50.37)" dy="2.15" textLength="19.7" lengthAdjust="spacingAndGlyphs">475646</text>
<text class="o" x="329.90" y="52.97" transform="rotate(-60.19 329.90 52.97)" dy="2.35" text-anchor="middle">o</text>
<text x="334.78" y="52.36" transform="rotate(-59.09 334.78 52.36)" dy="2.15" textLength="19.4" lengthAdjust="spacingAndGlyphs">62307</text>
<text class="o" x="333.24" y="54.93" transform="rotate(-59.09 333.24 54.93)" dy="2.35" text-anchor="middle">o</text>
<text x="338.13" y="54.41" transform="rotate(-57.99 338.13 54.41)" dy="2.15" textLength="20.2" lengthAdjust="spacingAndGlyphs">868307</text>
<text class="o" x="336.54" y="56.95" transform="rotate(-57.99 336.54 56.95)" dy="2.35" text-anchor="middle">o</text>
<text x="341.44" y="56.52" transform="rotate(-56.88 341.44 56.52)" dy="2.15" textLength="20.4" lengthAdjust="spacingAndGlyphs">485319</text>
<text class="o" x="339.80" y="59.03" transform="rotate(-56.88 339.80 59.03)" dy="2.35" text-anchor="middle">o</text>
<text x="344.71" y="58.70" transform="rotate(-55.78 344.71 58.70)" dy="2.15" textLength="19.6" lengthAdjust="spacingAndGlyphs">30083</text>
<text class="o" x="343.02" y="61.18" transform="rotate(-55.78 343.02 61.18)" dy="2.35" text-anchor="middle">o</text>
<text x="347.94" y="60.94" transform="rotate(-54.68 347.94 60.94)" dy="2.15" textLength="20.2" lengthAdjust="spacingAndGlyphs">900712</text>
<text class="o" x="346.20" y="63.39" transform="rotate(-54.68 346.20 63.39)" dy="2.35" text-anchor="middle">o</text>
<text x="351.12" y="63.24" transform="rotate(-53.57 351.12 63.24)" dy="2.15" textLength="19.9" lengthAdjust="spacingAndGlyphs">08860</text>
<text class="o" x="349.34" y="65.66" transform="rotate(-53.57 349.34 65.66)" dy="2.35" text-anchor="middle">o</text>
<text x="354.26" y="65.61" transform="rotate(-52.47 354.26 65.61)" dy="2.15" textLength="20.7" lengthAdjust="spacingAndGlyphs">152487</text>
<text class="o" x="352.43" y="67.98" transform="rotate(-52.47 352.43 67.98)" dy="2.35" text-anchor="middle">o</text>
<text x="357.35" y="68.03" transform="rotate(-51.36 357.35 68.03)" dy="2.15" textLength="20.1" lengthAdjust="spacingAndGlyphs">53318</text>
<text class="o" x="355.48" y="70.37" transform="rotate(-51.36 355.48 70.37)" dy="2.35" text-anchor="middle">o</text>
<text x="360.39" y="70.51" transform="rotate(-50.26 360.39 70.51)" dy="2.15" textLength="19.8" lengthAdjust="spacingAndGlyphs">23420</text>
<text class="o" x="358.48" y="72.82" transform="rotate(-50.26 358.48 72.82)" dy="2.35" text-anchor="middle">o</text>
<text x="363.39" y="73.05" transform="rotate(-49.16 363.39 73.05)" dy="2.15" textLength="20.7" lengthAdjust="spacingAndGlyphs">604349</text>
<text class="o" x="361.43" y="75.32" transform="rotate(-49.16 361.43 75.32)" dy="2.35" text-anchor="middle">o</text>
<text x="366.34" y="75.65" transform="rotate(-48.05 366.34 75.65)" dy="2.15" textLength="20.4" lengthAdjust="spacingAndGlyphs">075002</text>
<text class="o" x="364.33" y="77.88" transform="rotate(-48.05 364.33 77.88)" dy="2.35" text-anchor="middle">o</text>
<text x="369.23" y="78.30" transform="rotate(-46.95 369.23 78.30)" dy="2.15" textLength="20.1" lengthAdjust="spacingAndGlyphs">17018</text>
<text class="o" x="367.19" y="80.50" transform="rotate(-46.95 367.19 80.50)" dy="2.35" text-anchor="middle">o</text>
<text x="372.08" y="81.01" transform="rotate(-45.84 372.08 81.01)" dy="2.15" textLength="21.1" lengthAdjust="spacingAndGlyphs">251566</text>
<text class="o" x="369.99" y="83.16" transform="rotate(-45.84 369.99 83.16)" dy="2.35" text-anchor="middle">o</text>
<text x="374.87" y="83.78" transform="rotate(-44.74 374.87 83.78)" dy="2.15" textLength="21.1" lengthAdjust="spacingAndGlyphs">435612</text>
<text class="o" x="372.74" y="85.89" transform="rotate(-44.74 372.74 85.89)" dy="2.35" text-anchor="middle">o</text>
<text x="377.61" y="86.59" transform="rotate(-43.64 377.61 86.59)" dy="2.15" textLength="21.2" lengthAdjust="spacingAndGlyphs">192057</text>
<text class="o" x="375.44" y="88.66" transform="rotate(-43.64 375.44 88.66)" dy="2.35" text-anchor="middle">o</text>
<text x="380.29" y="89.46" transform="rotate(-42.53 380.29 89.46)" dy="2.15" textLength="21.3" lengthAdjust="spacingAndGlyphs">609605</text>
<text class="o" x="378.08" y="91.49" transform="rotate(-42.53 378.08 91.49)" dy="2.35" text-anchor="middle">o</text>
<text x="382.92" y="92.38" transform="rotate(-41.43 382.92 92.38)" dy="2.15" textLength="21.3" lengthAdjust="spacingAndGlyphs">667033</text>
<text class="o" x="380.67" y="94.37" transform="rotate(-41.43 380.67 94.37)" dy="2.35" text-anchor="middle">o</text>
<text x="385.49" y="95.35" transform="rotate(-40.32 385.49 95.35)" dy="2.15" textLength="21.7" lengthAdjust="spacingAndGlyphs">163620</text>
<text class="o" x="383.20" y="97.29" transform="rotate(-40.32 383.20 97.29)" dy="2.35" text-anchor="middle">o</text>
<text x="388.00" y="98.37" transform="rotate(-39.22 388.00 98.37)" dy="2.15" textLength="21.6" lengthAdjust="spacingAndGlyphs">841718</text>
<text class="o" x="385.68" y="100.27" transform="rotate(-39.22 385.68 100.27)" dy="2.35" text-anchor="middle">o</text>
<text x="390.46" y="101.44" transform="rotate(-38.12 390.46 101.44)" dy="2.15" textLength="20.7" lengthAdjust="spacingAndGlyphs">59819</text>
<text class="o" x="388.10" y="103.29" transform="rotate(-38.12 388.10 103.29)" dy="2.35" text-anchor="middle">o</text>
<text x="392.85" y="104.55" transform="rotate(-37.01 392.85 104.55)" dy="2.15" textLength="21.4" lengthAdjust="spacingAndGlyphs">236081</text>
<text class="o" x="390.46" y="106.36" transform="rotate(-37.01 390.46 106.36)" dy="2.35" text-anchor="middle">o</text>
<text x="395.19" y="107.71" transform="rotate(-35.91 395.19 107.71)" dy="2.15" textLength="21.5" lengthAdjust="spacingAndGlyphs">205101</text>
<text class="o" x="392.76" y="109.47" transform="rotate(-35.91 392.76 109.47)" dy="2.35" text-anchor="middle">o</text>
<text x="397.46" y="110.92" transform="rotate(-34.81 397.46 110.92)" dy="2.15" textLength="21.3" lengthAdjust="spacingAndGlyphs">941098</text>
<text class="o" x="395.00" y="112.63" transform="rotate(-34.81 395.00 112.63)" dy="2.35" text-anchor="middle">o</text>
<text x="399.67" y="114.16" transform="rotate(-33.70 399.67 114.16)" dy="2.15" textLength="20.5" lengthAdjust="spacingAndGlyphs">18180</text>
<text class="o" x="397.18" y="115.83" transform="rotate(-33.70 397.18 115.83)" dy="2.35" text-anchor="middle">o</text>
<text x="401.82" y="117.45" transform="rotate(-32.60 401.82 117.45)" dy="2.15" textLength="21.3" lengthAdjust="spacingAndGlyphs">213237</text>
<text class="o" x="399.29" y="119.07" transform="rotate(-32.60 399.29 119.07)" dy="2.35" text-anchor="middle">o</text>
<text x="403.90" y="120.78" transform="rotate(-31.49 403.90 120.78)" dy="2.15" textLength="21.0" lengthAdjust="spacingAndGlyphs">459658</text>
<text class="o" x="401.35" y="122.35" transform="rotate(-31.49 401.35 122.35)" dy="2.35" text-anchor="middle">o</text>
<text x="405.92" y="124.15" transform="rotate(-30.39 405.92 124.15)" dy="2.15" textLength="20.1" lengthAdjust="spacingAndGlyphs">68362</text>
<text class="o" x="403.34" y="125.67" transform="rotate(-30.39 403.34 125.67)" dy="2.35" text-anchor="middle">o</text>
<text x="407.88" y="127.56" transform="rotate(-29.29 407.88 127.56)" dy="2.15" textLength="20.6" lengthAdjust="spacingAndGlyphs">987262</text>
<text class="o" x="405.26" y="129.03" transform="rotate(-29.29 405.26 129.03)" dy="2.35" text-anchor="middle">o</text>
<text x="409.77" y="131.00" transform="rotate(-28.18 409.77 131.00)" dy="2.15" textLength="20.6" lengthAdjust="spacingAndGlyphs">787922</text>
<text class="o" x="407.12" y="132.42" transform="rotate(-28.18 407.12 132.42)" dy="2.35" text-anchor="middle">o</text>
<text x="411.59" y="134.48" transform="rotate(-27.08 411.59 134.48)" dy="2.15" textLength="20.3" lengthAdjust="spacingAndGlyphs">29853</text>
<text class="o" x="408.92" y="135.85" transform="rotate(-27.08 408.92 135.85)" dy="2.35" text-anchor="middle">o</text>
<text x="413.34" y="138.00" transform="rotate(-25.97 413.34 138.00)" dy="2.15" textLength="21.0" lengthAdjust="spacingAndGlyphs">469994</text>
<text class="o" x="410.65" y="139.31" transform="rotate(-25.97 410.65 139.31)" dy="2.35" text-anchor="middle">o</text>
<text x="415.03" y="141.55" transform="rotate(-24.87 415.03 141.55)" dy="2.15" textLength="20.6" lengthAdjust="spacingAndGlyphs">047632</text>
<text class="o" x="412.31" y="142.81" transform="rotate(-24.87 412.31 142.81)" dy="2.35" text-anchor="middle">o</text>
<text x="416.65" y="145.13" transform="rotate(-23.77 416.65 145.13)" dy="2.15" textLength="19.8" lengthAdjust="spacingAndGlyphs">57267</text>
<text class="o" x="413.90" y="146.34" transform="rotate(-23.77 413.90 146.34)" dy="2.35" text-anchor="middle">o</text>
<text x="418.20" y="148.74" transform="rotate(-22.66 418.20 148.74)" dy="2.15" textLength="20.0" lengthAdjust="spacingAndGlyphs">79807</text>
<text class="o" x="415.43" y="149.89" transform="rotate(-22.66 415.43 149.89)" dy="2.35" text-anchor="middle">o</text>
<text x="419.67" y="152.38" transform="rotate(-21.56 419.67 152.38)" dy="2.15" textLength="19.5" lengthAdjust="spacingAndGlyphs">60733</text>
<text class="o" x="416.88" y="153.48" transform="rotate(-21.56 416.88 153.48)" dy="2.35" text-anchor="middle">o</text>
<text x="421.08" y="156.04" transform="rotate(-20.45 421.08 156.04)" dy="2.15" textLength="18.9" lengthAdjust="spacingAndGlyphs">34334</text>
<text class="o" x="418.27" y="157.09" transform="rotate(-20.45 418.27 157.09)" dy="2.35" text-anchor="middle">o</text>
<text x="422.42" y="159.74" transform="rotate(-19.35 422.42 159.74)" dy="2.15" textLength="19.9" lengthAdjust="spacingAndGlyphs">042052</text>
<text class="o" x="419.59" y="160.73" transform="rotate(-19.35 419.59 160.73)" dy="2.35" text-anchor="middle">o</text>
<text x="423.69" y="163.46" transform="rotate(-18.25 423.69 163.46)" dy="2.15" textLength="18.9" lengthAdjust="spacingAndGlyphs">11440</text>
<text class="o" x="420.84" y="164.40" transform="rotate(-18.25 420.84 164.40)" dy="2.35" text-anchor="middle">o</text>
<text x="424.88" y="167.20" transform="rotate(-17.14 424.88 167.20)" dy="2.15" textLength="19.6" lengthAdjust="spacingAndGlyphs">500556</text>
<text class="o" x="422.01" y="168.08" transform="rotate(-17.14 422.01 168.08)" dy="2.35" text-anchor="middle">o</text>
<text x="426.00" y="170.96" transform="rotate(-16.04 426.00 170.96)" dy="2.15" textLength="18.9" lengthAdjust="spacingAndGlyphs">39762</text>
<text class="o" x="423.12" y="171.79" transform="rotate(-16.04 423.12 171.79)" dy="2.35" text-anchor="middle">o</text>
<text x="427.05" y="174.75" transform="rotate(-14.94 427.05 174.75)" dy="2.15" textLength="19.2" lengthAdjust="spacingAndGlyphs">41617</text>
<text class="o" x="424.15" y="175.52" transform="rotate(-14.94 424.15 175.52)" dy="2.35" text-anchor="middle">o</text>
<text x="428.03" y="178.56" transform="rotate(-13.83 428.03 178.56)" dy="2.15" textLength="19.6" lengthAdjust="spacingAndGlyphs">185574</text>
<text class="o" x="425.11" y="179.27" transform="rotate(-13.83 425.11 179.27)" dy="2.35" text-anchor="middle">o</text>
<text x="428.93" y="182.38" transform="rotate(-12.73 428.93 182.38)" dy="2.15" textLength="19.6" lengthAdjust="spacingAndGlyphs">159881</text>
<text class="o" x="426.00" y="183.04" transform="rotate(-12.73 426.00 183.04)" dy="2.35" text-anchor="middle">o</text>
<text x="429.76" y="186.22" transform="rotate(-11.62 429.76 186.22)" dy="2.15" textLength="19.0" lengthAdjust="spacingAndGlyphs">504922</text>
<text class="o" x="426.82" y="186.82" transform="rotate(-11.62 426.82 186.82)" dy="2.35" text-anchor="middle">o</text>
<text x="430.51" y="190.07" transform="rotate(-10.52 430.51 190.07)" dy="2.15" textLength="19.2" lengthAdjust="spacingAndGlyphs">118259</text>
<text class="o" x="427.56" y="190.62" transform="rotate(-10.52 427.56 190.62)" dy="2.35" text-anchor="middle">o</text>
<text x="431.19" y="193.94" transform="rotate(-9.42 431.19 193.94)" dy="2.15" textLength="18.8" lengthAdjust="spacingAndGlyphs">277421</text>
<text class="o" x="428.23" y="194.43" transform="rotate(-9.42 428.23 194.43)" dy="2.35" text-anchor="middle">o</text>
<text x="431.80" y="197.82" transform="rotate(-8.31 431.80 197.82)" dy="2.15" textLength="17.9" lengthAdjust="spacingAndGlyphs">88965</text>
<text class="o" x="428.83" y="198.26" transform="rotate(-8.31 428.83 198.26)" dy="2.35" text-anchor="middle">o</text>
<text x="432.33" y="201.72" transform="rotate(-7.21 432.33 201.72)" dy="2.15" textLength="18.8" lengthAdjust="spacingAndGlyphs">602078</text>
<text class="o" x="429.35" y="202.09" transform="rotate(-7.21 429.35 202.09)" dy="2.35" text-anchor="middle">o</text>
<text x="432.78" y="205.62" transform="rotate(-6.10 432.78 205.62)" dy="2.15" textLength="18.9" lengthAdjust="spacingAndGlyphs">556781</text>
<text class="o" x="429.80" y="205.94" transform="rotate(-6.10 429.80 205.94)" dy="2.35" text-anchor="middle">o</text>
<text x="433.16" y="209.53" transform="rotate(-5.00 433.16 209.53)" dy="2.15" textLength="18.2" lengthAdjust="spacingAndGlyphs">24911</text>
<text class="o" x="430.17" y="209.79" transform="rotate(-5.00 430.17 209.79)" dy="2.35" text-anchor="middle">o</text>
<text x="433.47" y="213.45" transform="rotate(-3.90 433.47 213.45)" dy="2.15" textLength="18.5" lengthAdjust="spacingAndGlyphs">23966</text>
<text class="o" x="430.47" y="213.65" transform="rotate(-3.90 430.47 213.65)" dy="2.35" text-anchor="middle">o</text>
<text x="433.70" y="217.37" transform="rotate(-2.79 433.70 217.37)" dy="2.15" textLength="18.1" lengthAdjust="spacingAndGlyphs">99263</text>
<text class="o" x="430.70" y="217.51" transform="rotate(-2.79 430.70 217.51)" dy="2.35" text-anchor="middle">o</text>
<text x="433.85" y="221.29" transform="rotate(-1.69 433.85 221.29)" dy="2.15" textLength="18.4" lengthAdjust="spacingAndGlyphs">92345</text>
<text class="o" x="430.85" y="221.38" transform="rotate(-1.69 430.85 221.38)" dy="2.35" text-anchor="middle">o</text>
<text x="433.93" y="225.22" transform="rotate(-0.58 433.93 225.22)" dy="2.15" textLength="18.5" lengthAdjust="spacingAndGlyphs">76658</text>
<text class="o" x="430.93" y="225.25" transform="rotate(-0.58 430.93 225.25)" dy="2.35" text-anchor="middle">o</text>
<text x="433.93" y="229.15" transform="rotate(0.52 433.93 229.15)" dy="2.15" textLength="18.5" lengthAdjust="spacingAndGlyphs">784709</text>
<text class="o" x="430.93" y="229.12" transform="rotate(0.52 430.93 229.12)" dy="2.35" text-anchor="middle">o</text>
<text x="433.86" y="233.08" transform="rotate(1.62 433.86 233.08)" dy="2.15" textLength="18.1" lengthAdjust="spacingAndGlyphs">13728</text>
<text class="o" x="430.86" y="232.99" transform="rotate(1.62 430.86 232.99)" dy="2.35" text-anchor="middle">o</text>
<text x="433.71" y="237.00" transform="rotate(2.73 433.71 237.00)" dy="2.15" textLength="18.4" lengthAdjust="spacingAndGlyphs">38308</text>
<text class="o" x="430.71" y="236.86" transform="rotate(2.73 430.71 236.86)" dy="2.35" text-anchor="middle">o</text>
<text x="433.48" y="240.92" transform="rotate(3.83 433.48 240.92)" dy="2.15" textLength="19.1" lengthAdjust="spacingAndGlyphs">194227</text>
<text class="o" x="430.49" y="240.72" transform="rotate(3.83 430.49 240.72)" dy="2.35" text-anchor="middle">o</text>
<text x="433.18" y="244.84" transform="rotate(4.94 433.18 244.84)" dy="2.15" textLength="18.3" lengthAdjust="spacingAndGlyphs">005938</text>
<text class="o" x="430.19" y="244.58" transform="rotate(4.94 430.19 244.58)" dy="2.35" text-anchor="middle">o</text>
<text x="432.81" y="248.75" transform="rotate(6.04 432.81 248.75)" dy="2.15" textLength="18.3" lengthAdjust="spacingAndGlyphs">055552</text>
<text class="o" x="429.82" y="248.44" transform="rotate(6.04 429.82 248.44)" dy="2.35" text-anchor="middle">o</text>
<text x="432.36" y="252.65" transform="rotate(7.14 432.36 252.65)" dy="2.15" textLength="18.7" lengthAdjust="spacingAndGlyphs">015313</text>
<text class="o" x="429.38" y="252.28" transform="rotate(7.14 429.38 252.28)" dy="2.35" text-anchor="middle">o</text>
<text x="431.83" y="256.55" transform="rotate(8.25 431.83 256.55)" dy="2.15" textLength="17.5" lengthAdjust="spacingAndGlyphs">75106</text>
<text class="o" x="428.86" y="256.12" transform="rotate(8.25 428.86 256.12)" dy="2.35" text-anchor="middle">o</text>
<text x="431.23" y="260.43" transform="rotate(9.35 431.23 260.43)" dy="2.15" textLength="18.0" lengthAdjust="spacingAndGlyphs">26771</text>
<text class="o" x="428.27" y="259.94" transform="rotate(9.35 428.27 259.94)" dy="2.35" text-anchor="middle">o</text>
<text x="430.55" y="264.30" transform="rotate(10.45 430.55 264.30)" dy="2.15" textLength="19.0" lengthAdjust="spacingAndGlyphs">374077</text>
<text class="o" x="427.60" y="263.75" transform="rotate(10.45 427.60 263.75)" dy="2.35" text-anchor="middle">o</text>
<text x="429.80" y="268.15" transform="rotate(11.56 429.80 268.15)" dy="2.15" textLength="19.1" lengthAdjust="spacingAndGlyphs">727045</text>
<text class="o" x="426.86" y="267.55" transform="rotate(11.56 426.86 267.55)" dy="2.35" text-anchor="middle">o</text>
<text x="428.98" y="272.00" transform="rotate(12.66 428.98 272.00)" dy="2.15" textLength="19.0" lengthAdjust="spacingAndGlyphs">859630</text>
<text class="o" x="426.05" y="271.34" transform="rotate(12.66 426.05 271.34)" dy="2.35" text-anchor="middle">o</text>
<text x="428.08" y="275.82" transform="rotate(13.77 428.08 275.82)" dy="2.15" textLength="18.4" lengthAdjust="spacingAndGlyphs">527832</text>
<text class="o" x="425.17" y="275.11" transform="rotate(13.77 425.17 275.11)" dy="2.35" text-anchor="middle">o</text>
<text x="427.11" y="279.63" transform="rotate(14.87 427.11 279.63)" dy="2.15" textLength="17.5" lengthAdjust="spacingAndGlyphs">96820</text>
<text class="o" x="424.21" y="278.86" transform="rotate(14.87 424.21 278.86)" dy="2.35" text-anchor="middle">o</text>
<text x="426.07" y="283.41" transform="rotate(15.97 426.07 283.41)" dy="2.15" textLength="18.6" lengthAdjust="spacingAndGlyphs">277200</text>
<text class="o" x="423.18" y="282.59" transform="rotate(15.97 423.18 282.59)" dy="2.35" text-anchor="middle">o</text>
<text x="424.95" y="287.18" transform="rotate(17.08 424.95 287.18)" dy="2.15" textLength="18.6" lengthAdjust="spacingAndGlyphs">600360</text>
<text class="o" x="422.08" y="286.30" transform="rotate(17.08 422.08 286.30)" dy="2.35" text-anchor="middle">o</text>
<text x="423.76" y="290.92" transform="rotate(18.18 423.76 290.92)" dy="2.15" textLength="17.6" lengthAdjust="spacingAndGlyphs">33167</text>
<text class="o" x="420.91" y="289.99" transform="rotate(18.18 420.91 289.99)" dy="2.35" text-anchor="middle">o</text>
<text x="422.50" y="294.64" transform="rotate(19.29 422.50 294.64)" dy="2.15" textLength="19.0" lengthAdjust="spacingAndGlyphs">915190</text>
<text class="o" x="419.66" y="293.65" transform="rotate(19.29 419.66 293.65)" dy="2.35" text-anchor="middle">o</text>
<text x="421.16" y="298.34" transform="rotate(20.39 421.16 298.34)" dy="2.15" textLength="18.5" lengthAdjust="spacingAndGlyphs">474738</text>
<text class="o" x="418.35" y="297.29" transform="rotate(20.39 418.35 297.29)" dy="2.35" text-anchor="middle">o</text>
<text x="419.76" y="302.01" transform="rotate(21.49 419.76 302.01)" dy="2.15" textLength="18.8" lengthAdjust="spacingAndGlyphs">551061</text>
<text class="o" x="416.97" y="300.91" transform="rotate(21.49 416.97 300.91)" dy="2.35" text-anchor="middle">o</text>
<text x="418.28" y="305.65" transform="rotate(22.60 418.28 305.65)" dy="2.15" textLength="17.9" lengthAdjust="spacingAndGlyphs">10102</text>
<text class="o" x="415.51" y="304.50" transform="rotate(22.60 415.51 304.50)" dy="2.35" text-anchor="middle">o</text>
<text x="416.74" y="309.26" transform="rotate(23.70 416.74 309.26)" dy="2.15" textLength="18.5" lengthAdjust="spacingAndGlyphs">038537</text>
<text class="o" x="413.99" y="308.06" transform="rotate(23.70 413.99 308.06)" dy="2.35" text-anchor="middle">o</text>
<text x="415.13" y="312.84" transform="rotate(24.81 415.13 312.84)" dy="2.15" textLength="18.3" lengthAdjust="spacingAndGlyphs">506496</text>
<text class="o" x="412.40" y="311.58" transform="rotate(24.81 412.40 311.58)" dy="2.35" text-anchor="middle">o</text>
<text x="413.44" y="316.39" transform="rotate(25.91 413.44 316.39)" dy="2.15" textLength="18.5" lengthAdjust="spacingAndGlyphs">261868</text>
<text class="o" x="410.75" y="315.08" transform="rotate(25.91 410.75 315.08)" dy="2.35" text-anchor="middle">o</text>
<text x="411.69" y="319.91" transform="rotate(27.01 411.69 319.91)" dy="2.15" textLength="19.0" lengthAdjust="spacingAndGlyphs">268525</text>
<text class="o" x="409.02" y="318.55" transform="rotate(27.01 409.02 318.55)" dy="2.35" text-anchor="middle">o</text>
<text x="409.88" y="323.39" transform="rotate(28.12 409.88 323.39)" dy="2.15" textLength="18.7" lengthAdjust="spacingAndGlyphs">377542</text>
<text class="o" x="407.23" y="321.98" transform="rotate(28.12 407.23 321.98)" dy="2.35" text-anchor="middle">o</text>
<text x="407.99" y="326.84" transform="rotate(29.22 407.99 326.84)" dy="2.15" textLength="19.0" lengthAdjust="spacingAndGlyphs">670220</text>
<text class="o" x="405.37" y="325.37" transform="rotate(29.22 405.37 325.37)" dy="2.35" text-anchor="middle">o</text>
<text x="406.04" y="330.25" transform="rotate(30.32 406.04 330.25)" dy="2.15" textLength="18.3" lengthAdjust="spacingAndGlyphs">15390</text>
<text class="o" x="403.45" y="328.73" transform="rotate(30.32 403.45 328.73)" dy="2.35" text-anchor="middle">o</text>
<text x="404.02" y="333.62" transform="rotate(31.43 404.02 333.62)" dy="2.15" textLength="17.5" lengthAdjust="spacingAndGlyphs">77550</text>
<text class="o" x="401.46" y="332.06" transform="rotate(31.43 401.46 332.06)" dy="2.35" text-anchor="middle">o</text>
<text x="401.94" y="336.95" transform="rotate(32.53 401.94 336.95)" dy="2.15" textLength="18.3" lengthAdjust="spacingAndGlyphs">159417</text>
<text class="o" x="399.41" y="335.34" transform="rotate(32.53 399.41 335.34)" dy="2.35" text-anchor="middle">o</text>
<text x="399.80" y="340.24" transform="rotate(33.64 399.80 340.24)" dy="2.15" textLength="18.4" lengthAdjust="spacingAndGlyphs">30229</text>
<text class="o" x="397.30" y="338.58" transform="rotate(33.64 397.30 338.58)" dy="2.35" text-anchor="middle">o</text>
<text x="397.59" y="343.49" transform="rotate(34.74 397.59 343.49)" dy="2.15" textLength="17.9" lengthAdjust="spacingAndGlyphs">34338</text>
<text class="o" x="395.13" y="341.78" transform="rotate(34.74 395.13 341.78)" dy="2.35" text-anchor="middle">o</text>
<text x="395.32" y="346.70" transform="rotate(35.84 395.32 346.70)" dy="2.15" textLength="18.8" lengthAdjust="spacingAndGlyphs">958372</text>
<text class="o" x="392.89" y="344.94" transform="rotate(35.84 392.89 344.94)" dy="2.35" text-anchor="middle">o</text>
<text x="392.99" y="349.86" transform="rotate(36.95 392.99 349.86)" dy="2.15" textLength="18.3" lengthAdjust="spacingAndGlyphs">19013</text>
<text class="o" x="390.59" y="348.06" transform="rotate(36.95 390.59 348.06)" dy="2.35" text-anchor="middle">o</text>
<text x="390.60" y="352.98" transform="rotate(38.05 390.60 352.98)" dy="2.15" textLength="18.3" lengthAdjust="spacingAndGlyphs">117639</text>
<text class="o" x="388.24" y="351.13" transform="rotate(38.05 388.24 351.13)" dy="2.35" text-anchor="middle">o</text>
<text x="388.15" y="356.05" transform="rotate(39.16 388.15 356.05)" dy="2.15" textLength="19.0" lengthAdjust="spacingAndGlyphs">569714</text>
<text class="o" x="385.82" y="354.15" transform="rotate(39.16 385.82 354.15)" dy="2.35" text-anchor="middle">o</text>
<text x="385.64" y="359.07" transform="rotate(40.26 385.64 359.07)" dy="2.15" textLength="18.7" lengthAdjust="spacingAndGlyphs">763180</text>
<text class="o" x="383.35" y="357.13" transform="rotate(40.26 383.35 357.13)" dy="2.35" text-anchor="middle">o</text>
<text x="383.07" y="362.04" transform="rotate(41.36 383.07 362.04)" dy="2.15" textLength="18.3" lengthAdjust="spacingAndGlyphs">55371</text>
<text class="o" x="380.82" y="360.06" transform="rotate(41.36 380.82 360.06)" dy="2.35" text-anchor="middle">o</text>
<text x="380.45" y="364.97" transform="rotate(42.47 380.45 364.97)" dy="2.15" textLength="18.6" lengthAdjust="spacingAndGlyphs">619833</text>
<text class="o" x="378.23" y="362.94" transform="rotate(42.47 378.23 362.94)" dy="2.35" text-anchor="middle">o</text>
<text x="377.77" y="367.84" transform="rotate(43.57 377.77 367.84)" dy="2.15" textLength="17.7" lengthAdjust="spacingAndGlyphs">53671</text>
<text class="o" x="375.59" y="365.77" transform="rotate(43.57 375.59 365.77)" dy="2.35" text-anchor="middle">o</text>
<text x="375.03" y="370.66" transform="rotate(44.68 375.03 370.66)" dy="2.15" textLength="19.1" lengthAdjust="spacingAndGlyphs">233978</text>
<text class="o" x="372.90" y="368.55" transform="rotate(44.68 372.90 368.55)" dy="2.35" text-anchor="middle">o</text>
<text x="372.24" y="373.43" transform="rotate(45.78 372.24 373.43)" dy="2.15" textLength="19.2" lengthAdjust="spacingAndGlyphs">396767</text>
<text class="o" x="370.15" y="371.28" transform="rotate(45.78 370.15 371.28)" dy="2.35" text-anchor="middle">o</text>
<text x="369.40" y="376.14" transform="rotate(46.88 369.40 376.14)" dy="2.15" textLength="18.1" lengthAdjust="spacingAndGlyphs">40210</text>
<text class="o" x="367.35" y="373.95" transform="rotate(46.88 367.35 373.95)" dy="2.35" text-anchor="middle">o</text>
<text x="366.51" y="378.80" transform="rotate(47.99 366.51 378.80)" dy="2.15" textLength="18.9" lengthAdjust="spacingAndGlyphs">880703</text>
<text class="o" x="364.50" y="376.57" transform="rotate(47.99 364.50 376.57)" dy="2.35" text-anchor="middle">o</text>
<text x="363.56" y="381.40" transform="rotate(49.09 363.56 381.40)" dy="2.15" textLength="18.9" lengthAdjust="spacingAndGlyphs">760573</text>
<text class="o" x="361.60" y="379.13" transform="rotate(49.09 361.60 379.13)" dy="2.35" text-anchor="middle">o</text>
<text x="360.57" y="383.94" transform="rotate(50.19 360.57 383.94)" dy="2.15" textLength="18.3" lengthAdjust="spacingAndGlyphs">217467</text>
<text class="o" x="358.65" y="381.64" transform="rotate(50.19 358.65 381.64)" dy="2.35" text-anchor="middle">o</text>
<text x="357.53" y="386.43" transform="rotate(51.30 357.53 386.43)" dy="2.15" textLength="17.8" lengthAdjust="spacingAndGlyphs">74652</text>
<text class="o" x="355.65" y="384.09" transform="rotate(51.30 355.65 384.09)" dy="2.35" text-anchor="middle">o</text>
<text x="354.44" y="388.85" transform="rotate(52.40 354.44 388.85)" dy="2.15" textLength="18.5" lengthAdjust="spacingAndGlyphs">788354</text>
<text class="o" x="352.61" y="386.48" transform="rotate(52.40 352.61 386.48)" dy="2.35" text-anchor="middle">o</text>
<text x="351.30" y="391.22" transform="rotate(53.51 351.30 391.22)" dy="2.15" textLength="18.2" lengthAdjust="spacingAndGlyphs">554380</text>
<text class="o" x="349.52" y="388.81" transform="rotate(53.51 349.52 388.81)" dy="2.35" text-anchor="middle">o</text>
<text x="348.12" y="393.53" transform="rotate(54.61 348.12 393.53)" dy="2.15" textLength="18.4" lengthAdjust="spacingAndGlyphs">280200</text>
<text class="o" x="346.39" y="391.08" transform="rotate(54.61 346.39 391.08)" dy="2.35" text-anchor="middle">o</text>
<text x="344.90" y="395.77" transform="rotate(55.71 344.90 395.77)" dy="2.15" textLength="18.4" lengthAdjust="spacingAndGlyphs">558072</text>
<text class="o" x="343.21" y="393.29" transform="rotate(55.71 343.21 393.29)" dy="2.35" text-anchor="middle">o</text>
<text x="341.63" y="397.95" transform="rotate(56.82 341.63 397.95)" dy="2.15" textLength="18.7" lengthAdjust="spacingAndGlyphs">650981</text>
<text class="o" x="339.99" y="395.44" transform="rotate(56.82 339.99 395.44)" dy="2.35" text-anchor="middle">o</text>
<text x="338.32" y="400.07" transform="rotate(57.92 338.32 400.07)" dy="2.15" textLength="18.2" lengthAdjust="spacingAndGlyphs">376450</text>
<text class="o" x="336.73" y="397.53" transform="rotate(57.92 336.73 397.53)" dy="2.35" text-anchor="middle">o</text>
<text x="334.98" y="402.12" transform="rotate(59.03 334.98 402.12)" dy="2.15" textLength="17.9" lengthAdjust="spacingAndGlyphs">29326</text>
<text class="o" x="333.43" y="399.55" transform="rotate(59.03 333.43 399.55)" dy="2.35" text-anchor="middle">o</text>
<text x="331.59" y="404.11" transform="rotate(60.13 331.59 404.11)" dy="2.15" textLength="18.2" lengthAdjust="spacingAndGlyphs">824020</text>
<text class="o" x="330.09" y="401.51" transform="rotate(60.13 330.09 401.51)" dy="2.35" text-anchor="middle">o</text>
<text x="328.16" y="406.04" transform="rotate(61.23 328.16 406.04)" dy="2.15" textLength="17.8" lengthAdjust="spacingAndGlyphs">77898</text>
<text class="o" x="326.72" y="403.41" transform="rotate(61.23 326.72 403.41)" dy="2.35" text-anchor="middle">o</text>
<text x="324.70" y="407.89" transform="rotate(62.34 324.70 407.89)" dy="2.15" textLength="18.3" lengthAdjust="spacingAndGlyphs">242128</text>
<text class="o" x="323.31" y="405.24" transform="rotate(62.34 323.31 405.24)" dy="2.35" text-anchor="middle">o</text>
<text x="321.20" y="409.68" transform="rotate(63.44 321.20 409.68)" dy="2.15" textLength="19.2" lengthAdjust="spacingAndGlyphs">774474</text>
<text class="o" x="319.86" y="407.00" transform="rotate(63.44 319.86 407.00)" dy="2.35" text-anchor="middle">o</text>
<text x="317.67" y="411.41" transform="rotate(64.55 317.67 411.41)" dy="2.15" textLength="17.8" lengthAdjust="spacingAndGlyphs">95280</text>
<text class="o" x="316.38" y="408.70" transform="rotate(64.55 316.38 408.70)" dy="2.35" text-anchor="middle">o</text>
<text x="314.11" y="413.06" transform="rotate(65.65 314.11 413.06)" dy="2.15" textLength="17.7" lengthAdjust="spacingAndGlyphs">79940</text>
<text class="o" x="312.87" y="410.33" transform="rotate(65.65 312.87 410.33)" dy="2.35" text-anchor="middle">o</text>
<text x="310.52" y="414.65" transform="rotate(66.75 310.52 414.65)" dy="2.15" textLength="18.3" lengthAdjust="spacingAndGlyphs">817244</text>
<text class="o" x="309.33" y="411.89" transform="rotate(66.75 309.33 411.89)" dy="2.35" text-anchor="middle">o</text>
<text x="306.89" y="416.16" transform="rotate(67.86 306.89 416.16)" dy="2.15" textLength="17.6" lengthAdjust="spacingAndGlyphs">50877</text>
<text class="o" x="305.76" y="413.38" transform="rotate(67.86 305.76 413.38)" dy="2.35" text-anchor="middle">o</text>
<text x="303.24" y="417.61" transform="rotate(68.96 303.24 417.61)" dy="2.15" textLength="18.4" lengthAdjust="spacingAndGlyphs">266504</text>
<text class="o" x="302.16" y="414.81" transform="rotate(68.96 302.16 414.81)" dy="2.35" text-anchor="middle">o</text>
<text x="299.56" y="418.98" transform="rotate(70.06 299.56 418.98)" dy="2.15" textLength="17.7" lengthAdjust="spacingAndGlyphs">55968</text>
<text class="o" x="298.54" y="416.16" transform="rotate(70.06 298.54 416.16)" dy="2.35" text-anchor="middle">o</text>
<text x="295.85" y="420.29" transform="rotate(71.17 295.85 420.29)" dy="2.15" textLength="17.6" lengthAdjust="spacingAndGlyphs">64617</text>
<text class="o" x="294.89" y="417.45" transform="rotate(71.17 294.89 417.45)" dy="2.35" text-anchor="middle">o</text>
<text x="292.12" y="421.52" transform="rotate(72.27 292.12 421.52)" dy="2.15" textLength="18.3" lengthAdjust="spacingAndGlyphs">18110</text>
<text class="o" x="291.21" y="418.66" transform="rotate(72.27 291.21 418.66)" dy="2.35" text-anchor="middle">o</text>
<text x="288.37" y="422.68" transform="rotate(73.38 288.37 422.68)" dy="2.15" textLength="17.7" lengthAdjust="spacingAndGlyphs">64774</text>
<text class="o" x="287.51" y="419.80" transform="rotate(73.38 287.51 419.80)" dy="2.35" text-anchor="middle">o</text>
<text x="284.60" y="423.77" transform="rotate(74.48 284.60 423.77)" dy="2.15" textLength="18.3" lengthAdjust="spacingAndGlyphs">023722</text>
<text class="o" x="283.79" y="420.88" transform="rotate(74.48 283.79 420.88)" dy="2.35" text-anchor="middle">o</text>
<text x="280.80" y="424.78" transform="rotate(75.58 280.80 424.78)" dy="2.15" textLength="17.5" lengthAdjust="spacingAndGlyphs">76026</text>
<text class="o" x="280.05" y="421.87" transform="rotate(75.58 280.05 421.87)" dy="2.35" text-anchor="middle">o</text>
<text x="276.99" y="425.72" transform="rotate(76.69 276.99 425.72)" dy="2.15" textLength="17.9" lengthAdjust="spacingAndGlyphs">43220</text>
<text class="o" x="276.30" y="422.80" transform="rotate(76.69 276.30 422.80)" dy="2.35" text-anchor="middle">o</text>
<text x="273.15" y="426.59" transform="rotate(77.79 273.15 426.59)" dy="2.15" textLength="17.8" lengthAdjust="spacingAndGlyphs">83616</text>
<text class="o" x="272.52" y="423.66" transform="rotate(77.79 272.52 423.66)" dy="2.35" text-anchor="middle">o</text>
<text class="l" x="271.44" y="438.28" transform="rotate(258.90 271.44 438.28)" dy="2.15" textLength="17.7" lengthAdjust="spacingAndGlyphs">41212</text>
<text class="o ol" x="271.95" y="440.83" transform="rotate(258.90 271.95 440.83)" dy="2.35" text-anchor="middle">o</text>
<text class="l" x="267.37" y="439.03" transform="rotate(260.00 267.37 439.03)" dy="2.15" textLength="19.2" lengthAdjust="spacingAndGlyphs">591305</text>
<text class="o ol" x="267.82" y="441.59" transform="rotate(260.00 267.82 441.59)" dy="2.35" text-anchor="middle">o</text>
<text class="l" x="263.29" y="439.71" transform="rotate(261.10 263.29 439.71)" dy="2.15" textLength="18.9" lengthAdjust="spacingAndGlyphs">315871</text>
<text class="o ol" x="263.69" y="442.28" transform="rotate(261.10 263.69 442.28)" dy="2.35" text-anchor="middle">o</text>
<text class="l" x="259.19" y="440.31" transform="rotate(262.21 259.19 440.31)" dy="2.15" textLength="18.6" lengthAdjust="spacingAndGlyphs">705879</text>
<text class="o ol" x="259.54" y="442.89" transform="rotate(262.21 259.54 442.89)" dy="2.35" text-anchor="middle">o</text>
<text class="l" x="255.08" y="440.84" transform="rotate(263.31 255.08 440.84)" dy="2.15" textLength="19.0" lengthAdjust="spacingAndGlyphs">847287</text>
<text class="o ol" x="255.38" y="443.42" transform="rotate(263.31 255.38 443.42)" dy="2.35" text-anchor="middle">o</text>
<text class="l" x="250.96" y="441.28" transform="rotate(264.42 250.96 441.28)" dy="2.15" textLength="17.7" lengthAdjust="spacingAndGlyphs">94242</text>
<text class="o ol" x="251.21" y="443.87" transform="rotate(264.42 251.21 443.87)" dy="2.35" text-anchor="middle">o</text>
<text class="l" x="246.83" y="441.64" transform="rotate(265.52 246.83 441.64)" dy="2.15" textLength="18.0" lengthAdjust="spacingAndGlyphs">20906</text>
<text class="o ol" x="247.04" y="444.24" transform="rotate(265.52 247.04 444.24)" dy="2.35" text-anchor="middle">o</text>
<text class="l" x="242.70" y="441.93" transform="rotate(266.62 242.70 441.93)" dy="2.15" textLength="18.2" lengthAdjust="spacingAndGlyphs">19021</text>
<text class="o ol" x="242.85" y="444.52" transform="rotate(266.62 242.85 444.52)" dy="2.35" text-anchor="middle">o</text>
<text class="l" x="238.56" y="442.13" transform="rotate(267.73 238.56 442.13)" dy="2.15" textLength="18.8" lengthAdjust="spacingAndGlyphs">584178</text>
<text class="o ol" x="238.67" y="444.73" transform="rotate(267.73 238.67 444.73)" dy="2.35" text-anchor="middle">o</text>
<text class="l" x="234.42" y="442.26" transform="rotate(268.83 234.42 442.26)" dy="2.15" textLength="18.7" lengthAdjust="spacingAndGlyphs">299357</text>
<text class="o ol" x="234.48" y="444.85" transform="rotate(268.83 234.48 444.85)" dy="2.35" text-anchor="middle">o</text>
<text class="l" x="230.28" y="442.30" transform="rotate(269.94 230.28 442.30)" dy="2.15" textLength="18.5" lengthAdjust="spacingAndGlyphs">595955</text>
<text class="o ol" x="230.29" y="444.90" transform="rotate(269.94 230.29 444.90)" dy="2.35" text-anchor="middle">o</text>
<text class="l" x="226.14" y="442.26" transform="rotate(271.04 226.14 442.26)" dy="2.15" textLength="18.9" lengthAdjust="spacingAndGlyphs">421983</text>
<text class="o ol" x="226.09" y="444.86" transform="rotate(271.04 226.09 444.86)" dy="2.35" text-anchor="middle">o</text>
<text class="l" x="222.00" y="442.15" transform="rotate(272.14 222.00 442.15)" dy="2.15" textLength="18.7" lengthAdjust="spacingAndGlyphs">346472</text>
<text class="o ol" x="221.90" y="444.75" transform="rotate(272.14 221.90 444.75)" dy="2.35" text-anchor="middle">o</text>
<text class="l" x="217.86" y="441.95" transform="rotate(273.25 217.86 441.95)" dy="2.15" textLength="18.3" lengthAdjust="spacingAndGlyphs">298879</text>
<text class="o ol" x="217.71" y="444.55" transform="rotate(273.25 217.71 444.55)" dy="2.35" text-anchor="middle">o</text>
<text class="l" x="213.73" y="441.68" transform="rotate(274.35 213.73 441.68)" dy="2.15" textLength="19.1" lengthAdjust="spacingAndGlyphs">689403</text>
<text class="o ol" x="213.53" y="444.27" transform="rotate(274.35 213.53 444.27)" dy="2.35" text-anchor="middle">o</text>
<text class="l" x="209.60" y="441.33" transform="rotate(275.45 209.60 441.33)" dy="2.15" textLength="18.7" lengthAdjust="spacingAndGlyphs">315830</text>
<text class="o ol" x="209.35" y="443.91" transform="rotate(275.45 209.35 443.91)" dy="2.35" text-anchor="middle">o</text>
<text class="l" x="205.48" y="440.89" transform="rotate(276.56 205.48 440.89)" dy="2.15" textLength="17.7" lengthAdjust="spacingAndGlyphs">66850</text>
<text class="o ol" x="205.18" y="443.48" transform="rotate(276.56 205.18 443.48)" dy="2.35" text-anchor="middle">o</text>
<text class="l" x="201.37" y="440.38" transform="rotate(277.66 201.37 440.38)" dy="2.15" textLength="18.7" lengthAdjust="spacingAndGlyphs">567519</text>
<text class="o ol" x="201.02" y="442.96" transform="rotate(277.66 201.02 442.96)" dy="2.35" text-anchor="middle">o</text>
<text class="l" x="197.27" y="439.79" transform="rotate(278.77 197.27 439.79)" dy="2.15" textLength="18.3" lengthAdjust="spacingAndGlyphs">305190</text>
<text class="o ol" x="196.88" y="442.36" transform="rotate(278.77 196.88 442.36)" dy="2.35" text-anchor="middle">o</text>
<text class="l" x="193.18" y="439.12" transform="rotate(279.87 193.18 439.12)" dy="2.15" textLength="17.4" lengthAdjust="spacingAndGlyphs">35643</text>
<text class="o ol" x="192.74" y="441.68" transform="rotate(279.87 192.74 441.68)" dy="2.35" text-anchor="middle">o</text>
<text class="l" x="189.11" y="438.37" transform="rotate(280.97 189.11 438.37)" dy="2.15" textLength="18.5" lengthAdjust="spacingAndGlyphs">587537</text>
<text class="o ol" x="188.62" y="440.92" transform="rotate(280.97 188.62 440.92)" dy="2.35" text-anchor="middle">o</text>
<text class="l" x="185.05" y="437.54" transform="rotate(282.08 185.05 437.54)" dy="2.15" textLength="19.1" lengthAdjust="spacingAndGlyphs">186372</text>
<text class="o ol" x="184.51" y="440.08" transform="rotate(282.08 184.51 440.08)" dy="2.35" text-anchor="middle">o</text>
<text class="l" x="181.01" y="436.64" transform="rotate(283.18 181.01 436.64)" dy="2.15" textLength="18.6" lengthAdjust="spacingAndGlyphs">831291</text>
<text class="o ol" x="180.42" y="439.17" transform="rotate(283.18 180.42 439.17)" dy="2.35" text-anchor="middle">o</text>
<text class="l" x="176.99" y="435.65" transform="rotate(284.29 176.99 435.65)" dy="2.15" textLength="18.3" lengthAdjust="spacingAndGlyphs">607274</text>
<text class="o ol" x="176.34" y="438.17" transform="rotate(284.29 176.34 438.17)" dy="2.35" text-anchor="middle">o</text>
<text class="l" x="172.98" y="434.59" transform="rotate(285.39 172.98 434.59)" dy="2.15" textLength="17.7" lengthAdjust="spacingAndGlyphs">86946</text>
<text class="o ol" x="172.29" y="437.10" transform="rotate(285.39 172.29 437.10)" dy="2.35" text-anchor="middle">o</text>
<text class="l" x="169.00" y="433.45" transform="rotate(286.49 169.00 433.45)" dy="2.15" textLength="17.7" lengthAdjust="spacingAndGlyphs">17510</text>
<text class="o ol" x="168.26" y="435.95" transform="rotate(286.49 168.26 435.95)" dy="2.35" text-anchor="middle">o</text>
<text class="l" x="165.04" y="432.24" transform="rotate(287.60 165.04 432.24)" dy="2.15" textLength="18.4" lengthAdjust="spacingAndGlyphs">156935</text>
<text class="o ol" x="164.25" y="434.72" transform="rotate(287.60 164.25 434.72)" dy="2.35" text-anchor="middle">o</text>
<text class="l" x="161.10" y="430.95" transform="rotate(288.70 161.10 430.95)" dy="2.15" textLength="18.4" lengthAdjust="spacingAndGlyphs">108088</text>
<text class="o ol" x="160.27" y="433.41" transform="rotate(288.70 160.27 433.41)" dy="2.35" text-anchor="middle">o</text>
<text class="l" x="157.19" y="429.58" transform="rotate(289.81 157.19 429.58)" dy="2.15" textLength="17.7" lengthAdjust="spacingAndGlyphs">23786</text>
<text class="o ol" x="156.31" y="432.03" transform="rotate(289.81 156.31 432.03)" dy="2.35" text-anchor="middle">o</text>
<text class="l" x="153.31" y="428.14" transform="rotate(290.91 153.31 428.14)" dy="2.15" textLength="19.1" lengthAdjust="spacingAndGlyphs">833945</text>
<text class="o ol" x="152.38" y="430.57" transform="rotate(290.91 152.38 430.57)" dy="2.35" text-anchor="middle">o</text>
<text class="l" x="149.45" y="426.63" transform="rotate(292.01 149.45 426.63)" dy="2.15" textLength="17.8" lengthAdjust="spacingAndGlyphs">98598</text>
<text class="o ol" x="148.48" y="429.04" transform="rotate(292.01 148.48 429.04)" dy="2.35" text-anchor="middle">o</text>
<text class="l" x="145.63" y="425.04" transform="rotate(293.12 145.63 425.04)" dy="2.15" textLength="18.8" lengthAdjust="spacingAndGlyphs">837064</text>
<text class="o ol" x="144.61" y="427.43" transform="rotate(293.12 144.61 427.43)" dy="2.35" text-anchor="middle">o</text>
<text class="l" x="141.83" y="423.37" transform="rotate(294.22 141.83 423.37)" dy="2.15" textLength="18.6" lengthAdjust="spacingAndGlyphs">321718</text>
<text class="o ol" x="140.77" y="425.74" transform="rotate(294.22 140.77 425.74)" dy="2.35" text-anchor="middle">o</text>
<text class="l" x="138.07" y="421.64" transform="rotate(295.32 138.07 421.64)" dy="2.15" textLength="17.6" lengthAdjust="spacingAndGlyphs">52057</text>
<text class="o ol" x="136.96" y="423.99" transform="rotate(295.32 136.96 423.99)" dy="2.35" text-anchor="middle">o</text>
<text class="l" x="134.35" y="419.83" transform="rotate(296.43 134.35 419.83)" dy="2.15" textLength="17.6" lengthAdjust="spacingAndGlyphs">36563</text>
<text class="o ol" x="133.19" y="422.16" transform="rotate(296.43 133.19 422.16)" dy="2.35" text-anchor="middle">o</text>
<text class="l" x="130.65" y="417.95" transform="rotate(297.53 130.65 417.95)" dy="2.15" textLength="18.4" lengthAdjust="spacingAndGlyphs">540513</text>
<text class="o ol" x="129.45" y="420.26" transform="rotate(297.53 129.45 420.26)" dy="2.35" text-anchor="middle">o</text>
<text class="l" x="127.00" y="416.00" transform="rotate(298.64 127.00 416.00)" dy="2.15" textLength="18.4" lengthAdjust="spacingAndGlyphs">292373</text>
<text class="o ol" x="125.75" y="418.28" transform="rotate(298.64 125.75 418.28)" dy="2.35" text-anchor="middle">o</text>
<text class="l" x="123.38" y="413.98" transform="rotate(299.74 123.38 413.98)" dy="2.15" textLength="18.7" lengthAdjust="spacingAndGlyphs">932869</text>
<text class="o ol" x="122.09" y="416.24" transform="rotate(299.74 122.09 416.24)" dy="2.35" text-anchor="middle">o</text>
<text class="l" x="119.81" y="411.89" transform="rotate(300.84 119.81 411.89)" dy="2.15" textLength="19.0" lengthAdjust="spacingAndGlyphs">247501</text>
<text class="o ol" x="118.47" y="414.12" transform="rotate(300.84 118.47 414.12)" dy="2.35" text-anchor="middle">o</text>
<text class="l" x="116.27" y="409.73" transform="rotate(301.95 116.27 409.73)" dy="2.15" textLength="19.1" lengthAdjust="spacingAndGlyphs">709248</text>
<text class="o ol" x="114.90" y="411.94" transform="rotate(301.95 114.90 411.94)" dy="2.35" text-anchor="middle">o</text>
<text class="l" x="112.78" y="407.51" transform="rotate(303.05 112.78 407.51)" dy="2.15" textLength="19.2" lengthAdjust="spacingAndGlyphs">368756</text>
<text class="o ol" x="111.36" y="409.69" transform="rotate(303.05 111.36 409.69)" dy="2.35" text-anchor="middle">o</text>
<text class="l" x="109.33" y="405.22" transform="rotate(304.16 109.33 405.22)" dy="2.15" textLength="18.5" lengthAdjust="spacingAndGlyphs">216529</text>
<text class="o ol" x="107.87" y="407.37" transform="rotate(304.16 107.87 407.37)" dy="2.35" text-anchor="middle">o</text>
<text class="l" x="105.92" y="402.86" transform="rotate(305.26 105.92 402.86)" dy="2.15" textLength="19.1" lengthAdjust="spacingAndGlyphs">824782</text>
<text class="o ol" x="104.42" y="404.98" transform="rotate(305.26 104.42 404.98)" dy="2.35" text-anchor="middle">o</text>
<text class="l" x="102.56" y="400.43" transform="rotate(306.36 102.56 400.43)" dy="2.15" textLength="18.8" lengthAdjust="spacingAndGlyphs">570953</text>
<text class="o ol" x="101.02" y="402.53" transform="rotate(306.36 101.02 402.53)" dy="2.35" text-anchor="middle">o</text>
<text class="l" x="99.25" y="397.95" transform="rotate(307.47 99.25 397.95)" dy="2.15" textLength="19.2" lengthAdjust="spacingAndGlyphs">949485</text>
<text class="o ol" x="97.67" y="400.01" transform="rotate(307.47 97.67 400.01)" dy="2.35" text-anchor="middle">o</text>
<text class="l" x="95.99" y="395.39" transform="rotate(308.57 95.99 395.39)" dy="2.15" textLength="18.6" lengthAdjust="spacingAndGlyphs">068567</text>
<text class="o ol" x="94.37" y="397.43" transform="rotate(308.57 94.37 397.43)" dy="2.35" text-anchor="middle">o</text>
<text class="l" x="92.77" y="392.78" transform="rotate(309.68 92.77 392.78)" dy="2.15" textLength="18.1" lengthAdjust="spacingAndGlyphs">34396</text>
<text class="o ol" x="91.11" y="394.78" transform="rotate(309.68 91.11 394.78)" dy="2.35" text-anchor="middle">o</text>
<text class="l" x="89.61" y="390.10" transform="rotate(310.78 89.61 390.10)" dy="2.15" textLength="18.6" lengthAdjust="spacingAndGlyphs">825728</text>
<text class="o ol" x="87.91" y="392.07" transform="rotate(310.78 87.91 392.07)" dy="2.35" text-anchor="middle">o</text>
<text class="l" x="86.50" y="387.37" transform="rotate(311.88 86.50 387.37)" dy="2.15" textLength="18.1" lengthAdjust="spacingAndGlyphs">68951</text>
<text class="o ol" x="84.77" y="389.31" transform="rotate(311.88 84.77 389.31)" dy="2.35" text-anchor="middle">o</text>
<text class="l" x="83.44" y="384.57" transform="rotate(312.99 83.44 384.57)" dy="2.15" textLength="18.3" lengthAdjust="spacingAndGlyphs">732821</text>
<text class="o ol" x="81.67" y="386.48" transform="rotate(312.99 81.67 386.48)" dy="2.35" text-anchor="middle">o</text>
<text class="l" x="80.44" y="381.72" transform="rotate(314.09 80.44 381.72)" dy="2.15" textLength="18.5" lengthAdjust="spacingAndGlyphs">168856</text>
<text class="o ol" x="78.63" y="383.59" transform="rotate(314.09 78.63 383.59)" dy="2.35" text-anchor="middle">o</text>
<text class="l" x="77.49" y="378.81" transform="rotate(315.19 77.49 378.81)" dy="2.15" textLength="19.1" lengthAdjust="spacingAndGlyphs">453413</text>
<text class="o ol" x="75.65" y="380.64" transform="rotate(315.19 75.65 380.64)" dy="2.35" text-anchor="middle">o</text>
<text class="l" x="74.60" y="375.84" transform="rotate(316.30 74.60 375.84)" dy="2.15" textLength="18.5" lengthAdjust="spacingAndGlyphs">562452</text>
<text class="o ol" x="72.72" y="377.64" transform="rotate(316.30 72.72 377.64)" dy="2.35" text-anchor="middle">o</text>
<text class="l" x="71.77" y="372.82" transform="rotate(317.40 71.77 372.82)" dy="2.15" textLength="19.1" lengthAdjust="spacingAndGlyphs">333455</text>
<text class="o ol" x="69.86" y="374.58" transform="rotate(317.40 69.86 374.58)" dy="2.35" text-anchor="middle">o</text>
<text class="l" x="69.00" y="369.75" transform="rotate(318.51 69.00 369.75)" dy="2.15" textLength="18.4" lengthAdjust="spacingAndGlyphs">21375</text>
<text class="o ol" x="67.05" y="371.47" transform="rotate(318.51 67.05 371.47)" dy="2.35" text-anchor="middle">o</text>
<text class="l" x="66.28" y="366.62" transform="rotate(319.61 66.28 366.62)" dy="2.15" textLength="18.3" lengthAdjust="spacingAndGlyphs">220748</text>
<text class="o ol" x="64.30" y="368.30" transform="rotate(319.61 64.30 368.30)" dy="2.35" text-anchor="middle">o</text>
<text class="l" x="63.63" y="363.44" transform="rotate(320.71 63.63 363.44)" dy="2.15" textLength="18.5" lengthAdjust="spacingAndGlyphs">689966</text>
<text class="o ol" x="61.62" y="365.08" transform="rotate(320.71 61.62 365.08)" dy="2.35" text-anchor="middle">o</text>
<text class="l" x="61.04" y="360.20" transform="rotate(321.82 61.04 360.20)" dy="2.15" textLength="18.4" lengthAdjust="spacingAndGlyphs">496200</text>
<text class="o ol" x="58.99" y="361.81" transform="rotate(321.82 58.99 361.81)" dy="2.35" text-anchor="middle">o</text>
<text class="l" x="58.51" y="356.92" transform="rotate(322.92 58.51 356.92)" dy="2.15" textLength="17.7" lengthAdjust="spacingAndGlyphs">32835</text>
<text class="o ol" x="56.43" y="358.49" transform="rotate(322.92 56.43 358.49)" dy="2.35" text-anchor="middle">o</text>
<text class="l" x="56.04" y="353.59" transform="rotate(324.03 56.04 353.59)" dy="2.15" textLength="19.2" lengthAdjust="spacingAndGlyphs">953123</text>
<text class="o ol" x="53.94" y="355.12" transform="rotate(324.03 53.94 355.12)" dy="2.35" text-anchor="middle">o</text>
<text class="l" x="53.64" y="350.22" transform="rotate(325.13 53.64 350.22)" dy="2.15" textLength="17.9" lengthAdjust="spacingAndGlyphs">76421</text>
<text class="o ol" x="51.51" y="351.71" transform="rotate(325.13 51.51 351.71)" dy="2.35" text-anchor="middle">o</text>
<text class="l" x="51.31" y="346.80" transform="rotate(326.23 51.31 346.80)" dy="2.15" textLength="19.1" lengthAdjust="spacingAndGlyphs">242191</text>
<text class="o ol" x="49.14" y="348.24" transform="rotate(326.23 49.14 348.24)" dy="2.35" text-anchor="middle">o</text>
<text class="l" x="49.04" y="343.33" transform="rotate(327.34 49.04 343.33)" dy="2.15" textLength="18.1" lengthAdjust="spacingAndGlyphs">10186</text>
<text class="o ol" x="46.85" y="344.74" transform="rotate(327.34 46.85 344.74)" dy="2.35" text-anchor="middle">o</text>
<text class="l" x="46.84" y="339.82" transform="rotate(328.44 46.84 339.82)" dy="2.15" textLength="18.5" lengthAdjust="spacingAndGlyphs">974201</text>
<text class="o ol" x="44.62" y="341.18" transform="rotate(328.44 44.62 341.18)" dy="2.35" text-anchor="middle">o</text>
<text class="l" x="44.70" y="336.27" transform="rotate(329.55 44.70 336.27)" dy="2.15" textLength="19.0" lengthAdjust="spacingAndGlyphs">200585</text>
<text class="o ol" x="42.46" y="337.59" transform="rotate(329.55 42.46 337.59)" dy="2.35" text-anchor="middle">o</text>
<text class="l" x="42.64" y="332.68" transform="rotate(330.65 42.64 332.68)" dy="2.15" textLength="18.6" lengthAdjust="spacingAndGlyphs">103608</text>
<text class="o ol" x="40.37" y="333.96" transform="rotate(330.65 40.37 333.96)" dy="2.35" text-anchor="middle">o</text>
<text class="l" x="40.64" y="329.05" transform="rotate(331.75 40.64 329.05)" dy="2.15" textLength="18.4" lengthAdjust="spacingAndGlyphs">377305</text>
<text class="o ol" x="38.35" y="330.28" transform="rotate(331.75 38.35 330.28)" dy="2.35" text-anchor="middle">o</text>
<text class="l" x="38.72" y="325.39" transform="rotate(332.86 38.72 325.39)" dy="2.15" textLength="18.4" lengthAdjust="spacingAndGlyphs">66165</text>
<text class="o ol" x="36.40" y="326.57" transform="rotate(332.86 36.40 326.57)" dy="2.35" text-anchor="middle">o</text>
<text class="l" x="36.86" y="321.68" transform="rotate(333.96 36.86 321.68)" dy="2.15" textLength="17.4" lengthAdjust="spacingAndGlyphs">89341</text>
<text class="o ol" x="34.53" y="322.82" transform="rotate(333.96 34.53 322.82)" dy="2.35" text-anchor="middle">o</text>
<text class="l" x="35.08" y="317.94" transform="rotate(335.06 35.08 317.94)" dy="2.15" textLength="18.0" lengthAdjust="spacingAndGlyphs">95337</text>
<text class="o ol" x="32.72" y="319.04" transform="rotate(335.06 32.72 319.04)" dy="2.35" text-anchor="middle">o</text>
<text class="l" x="33.37" y="314.17" transform="rotate(336.17 33.37 314.17)" dy="2.15" textLength="18.8" lengthAdjust="spacingAndGlyphs">963896</text>
<text class="o ol" x="30.99" y="315.22" transform="rotate(336.17 30.99 315.22)" dy="2.35" text-anchor="middle">o</text>
<text class="l" x="31.73" y="310.36" transform="rotate(337.27 31.73 310.36)" dy="2.15" textLength="17.7" lengthAdjust="spacingAndGlyphs">27881</text>
<text class="o ol" x="29.33" y="311.37" transform="rotate(337.27 29.33 311.37)" dy="2.35" text-anchor="middle">o</text>
<text class="l" x="30.17" y="306.53" transform="rotate(338.38 30.17 306.53)" dy="2.15" textLength="19.2" lengthAdjust="spacingAndGlyphs">927824</text>
<text class="o ol" x="27.75" y="307.49" transform="rotate(338.38 27.75 307.49)" dy="2.35" text-anchor="middle">o</text>
<text class="l" x="28.68" y="302.66" transform="rotate(339.48 28.68 302.66)" dy="2.15" textLength="17.5" lengthAdjust="spacingAndGlyphs">35841</text>
<text class="o ol" x="26.24" y="303.57" transform="rotate(339.48 26.24 303.57)" dy="2.35" text-anchor="middle">o</text>
<text class="l" x="27.26" y="298.77" transform="rotate(340.58 27.26 298.77)" dy="2.15" textLength="17.4" lengthAdjust="spacingAndGlyphs">73600</text>
<text class="o ol" x="24.81" y="299.63" transform="rotate(340.58 24.81 299.63)" dy="2.35" text-anchor="middle">o</text>
<text class="l" x="25.93" y="294.85" transform="rotate(341.69 25.93 294.85)" dy="2.15" textLength="18.5" lengthAdjust="spacingAndGlyphs">008700</text>
<text class="o ol" x="23.46" y="295.67" transform="rotate(341.69 23.46 295.67)" dy="2.35" text-anchor="middle">o</text>
<text class="l" x="24.66" y="290.91" transform="rotate(342.79 24.66 290.91)" dy="2.15" textLength="18.5" lengthAdjust="spacingAndGlyphs">477442</text>
<text class="o ol" x="22.18" y="291.67" transform="rotate(342.79 22.18 291.67)" dy="2.35" text-anchor="middle">o</text>
<text class="l" x="23.47" y="286.94" transform="rotate(343.90 23.47 286.94)" dy="2.15" textLength="18.3" lengthAdjust="spacingAndGlyphs">160133</text>
<text class="o ol" x="20.98" y="287.66" transform="rotate(343.90 20.98 287.66)" dy="2.35" text-anchor="middle">o</text>
<text class="l" x="22.36" y="282.95" transform="rotate(345.00 22.36 282.95)" dy="2.15" textLength="18.7" lengthAdjust="spacingAndGlyphs">882214</text>
<text class="o ol" x="19.85" y="283.62" transform="rotate(345.00 19.85 283.62)" dy="2.35" text-anchor="middle">o</text>
<text class="l" x="21.33" y="278.93" transform="rotate(346.10 21.33 278.93)" dy="2.15" textLength="18.6" lengthAdjust="spacingAndGlyphs">071571</text>
<text class="o ol" x="18.81" y="279.56" transform="rotate(346.10 18.81 279.56)" dy="2.35" text-anchor="middle">o</text>
<text class="l" x="20.37" y="274.90" transform="rotate(347.21 20.37 274.90)" dy="2.15" textLength="19.1" lengthAdjust="spacingAndGlyphs">866759</text>
<text class="o ol" x="17.84" y="275.48" transform="rotate(347.21 17.84 275.48)" dy="2.35" text-anchor="middle">o</text>
<text class="l" x="19.50" y="270.86" transform="rotate(348.31 19.50 270.86)" dy="2.15" textLength="18.6" lengthAdjust="spacingAndGlyphs">474743</text>
<text class="o ol" x="16.95" y="271.38" transform="rotate(348.31 16.95 271.38)" dy="2.35" text-anchor="middle">o</text>
<text class="l" x="18.70" y="266.79" transform="rotate(349.42 18.70 266.79)" dy="2.15" textLength="18.3" lengthAdjust="spacingAndGlyphs">767359</text>
<text class="o ol" x="16.14" y="267.27" transform="rotate(349.42 16.14 267.27)" dy="2.35" text-anchor="middle">o</text>
<text class="l" x="17.97" y="262.71" transform="rotate(350.52 17.97 262.71)" dy="2.15" textLength="17.8" lengthAdjust="spacingAndGlyphs">90963</text>
<text class="o ol" x="15.41" y="263.14" transform="rotate(350.52 15.41 263.14)" dy="2.35" text-anchor="middle">o</text>
<text class="l" x="17.33" y="258.62" transform="rotate(351.62 17.33 258.62)" dy="2.15" textLength="19.1" lengthAdjust="spacingAndGlyphs">128746</text>
<text class="o ol" x="14.76" y="259.00" transform="rotate(351.62 14.76 259.00)" dy="2.35" text-anchor="middle">o</text>
<text class="l" x="16.77" y="254.52" transform="rotate(352.73 16.77 254.52)" dy="2.15" textLength="18.9" lengthAdjust="spacingAndGlyphs">956605</text>
<text class="o ol" x="14.19" y="254.85" transform="rotate(352.73 14.19 254.85)" dy="2.35" text-anchor="middle">o</text>
<text class="l" x="16.28" y="250.40" transform="rotate(353.83 16.28 250.40)" dy="2.15" textLength="18.4" lengthAdjust="spacingAndGlyphs">564832</text>
<text class="o ol" x="13.70" y="250.68" transform="rotate(353.83 13.70 250.68)" dy="2.35" text-anchor="middle">o</text>
<text class="l" x="15.88" y="246.28" transform="rotate(354.94 15.88 246.28)" dy="2.15" textLength="18.2" lengthAdjust="spacingAndGlyphs">90619</text>
<text class="o ol" x="13.29" y="246.51" transform="rotate(354.94 13.29 246.51)" dy="2.35" text-anchor="middle">o</text>
<text class="l" x="15.55" y="242.15" transform="rotate(356.04 15.55 242.15)" dy="2.15" textLength="18.8" lengthAdjust="spacingAndGlyphs">768886</text>
<text class="o ol" x="12.96" y="242.33" transform="rotate(356.04 12.96 242.33)" dy="2.35" text-anchor="middle">o</text>
<text class="l" x="15.31" y="238.02" transform="rotate(357.14 15.31 238.02)" dy="2.15" textLength="18.8" lengthAdjust="spacingAndGlyphs">608203</text>
<text class="o ol" x="12.71" y="238.15" transform="rotate(357.14 12.71 238.15)" dy="2.35" text-anchor="middle">o</text>
<text class="l" x="15.14" y="233.88" transform="rotate(358.25 15.14 233.88)" dy="2.15" textLength="17.5" lengthAdjust="spacingAndGlyphs">26811</text>
<text class="o ol" x="12.54" y="233.96" transform="rotate(358.25 12.54 233.96)" dy="2.35" text-anchor="middle">o</text>
<text class="l" x="15.05" y="229.74" transform="rotate(359.35 15.05 229.74)" dy="2.15" textLength="18.4" lengthAdjust="spacingAndGlyphs">48266</text>
<text class="o ol" x="12.45" y="229.77" transform="rotate(359.35 12.45 229.77)" dy="2.35" text-anchor="middle">o</text>
<text class="l" x="15.05" y="225.59" transform="rotate(360.45 15.05 225.59)" dy="2.15" textLength="17.9" lengthAdjust="spacingAndGlyphs">36757</text>
<text class="o ol" x="12.45" y="225.57" transform="rotate(360.45 12.45 225.57)" dy="2.35" text-anchor="middle">o</text>
<text class="l" x="15.12" y="221.45" transform="rotate(361.56 15.12 221.45)" dy="2.15" textLength="17.7" lengthAdjust="spacingAndGlyphs">48095</text>
<text class="o ol" x="12.52" y="221.38" transform="rotate(361.56 12.52 221.38)" dy="2.35" text-anchor="middle">o</text>
<text class="l" x="15.27" y="217.31" transform="rotate(362.66 15.27 217.31)" dy="2.15" textLength="19.1" lengthAdjust="spacingAndGlyphs">314313</text>
<text class="o ol" x="12.67" y="217.19" transform="rotate(362.66 12.67 217.19)" dy="2.35" text-anchor="middle">o</text>
<text class="l" x="15.50" y="213.18" transform="rotate(363.77 15.50 213.18)" dy="2.15" textLength="18.0" lengthAdjust="spacingAndGlyphs">35315</text>
<text class="o ol" x="12.91" y="213.01" transform="rotate(363.77 12.91 213.01)" dy="2.35" text-anchor="middle">o</text>
<text class="l" x="15.81" y="209.05" transform="rotate(364.87 15.81 209.05)" dy="2.15" textLength="17.9" lengthAdjust="spacingAndGlyphs">83860</text>
<text class="o ol" x="13.22" y="208.83" transform="rotate(364.87 13.22 208.83)" dy="2.35" text-anchor="middle">o</text>
<text class="l" x="16.21" y="204.92" transform="rotate(365.97 16.21 204.92)" dy="2.15" textLength="18.5" lengthAdjust="spacingAndGlyphs">324914</text>
<text class="o ol" x="13.62" y="204.65" transform="rotate(365.97 13.62 204.65)" dy="2.35" text-anchor="middle">o</text>
<text class="l" x="16.68" y="200.81" transform="rotate(367.08 16.68 200.81)" dy="2.15" textLength="18.7" lengthAdjust="spacingAndGlyphs">253381</text>
<text class="o ol" x="14.10" y="200.49" transform="rotate(367.08 14.10 200.49)" dy="2.35" text-anchor="middle">o</text>
<text class="l" x="17.23" y="196.70" transform="rotate(368.18 17.23 196.70)" dy="2.15" textLength="19.0" lengthAdjust="spacingAndGlyphs">086494</text>
<text class="o ol" x="14.65" y="196.33" transform="rotate(368.18 14.65 196.33)" dy="2.35" text-anchor="middle">o</text>
<text class="l" x="17.86" y="192.61" transform="rotate(369.29 17.86 192.61)" dy="2.15" textLength="18.3" lengthAdjust="spacingAndGlyphs">373451</text>
<text class="o ol" x="15.29" y="192.19" transform="rotate(369.29 15.29 192.19)" dy="2.35" text-anchor="middle">o</text>
<text class="l" x="18.56" y="188.53" transform="rotate(370.39 18.56 188.53)" dy="2.15" textLength="18.8" lengthAdjust="spacingAndGlyphs">593419</text>
<text class="o ol" x="16.01" y="188.06" transform="rotate(370.39 16.01 188.06)" dy="2.35" text-anchor="middle">o</text>
<text class="l" x="19.35" y="184.46" transform="rotate(371.49 19.35 184.46)" dy="2.15" textLength="17.6" lengthAdjust="spacingAndGlyphs">25592</text>
<text class="o ol" x="16.80" y="183.94" transform="rotate(371.49 16.80 183.94)" dy="2.35" text-anchor="middle">o</text>
<text class="l" x="20.21" y="180.41" transform="rotate(372.60 20.21 180.41)" dy="2.15" textLength="17.8" lengthAdjust="spacingAndGlyphs">15981</text>
<text class="o ol" x="17.68" y="179.84" transform="rotate(372.60 17.68 179.84)" dy="2.35" text-anchor="middle">o</text>
<text class="l" x="21.16" y="176.38" transform="rotate(373.70 21.16 176.38)" dy="2.15" textLength="19.2" lengthAdjust="spacingAndGlyphs">840777</text>
<text class="o ol" x="18.63" y="175.76" transform="rotate(373.70 18.63 175.76)" dy="2.35" text-anchor="middle">o</text>
<text class="l" x="22.18" y="172.36" transform="rotate(374.81 22.18 172.36)" dy="2.15" textLength="18.2" lengthAdjust="spacingAndGlyphs">70125</text>
<text class="o ol" x="19.66" y="171.70" transform="rotate(374.81 19.66 171.70)" dy="2.35" text-anchor="middle">o</text>
<text class="l" x="23.27" y="168.37" transform="rotate(375.91 23.27 168.37)" dy="2.15" textLength="18.7" lengthAdjust="spacingAndGlyphs">468376</text>
<text class="o ol" x="20.77" y="167.65" transform="rotate(375.91 20.77 167.65)" dy="2.35" text-anchor="middle">o</text>
<text class="l" x="24.45" y="164.39" transform="rotate(377.01 24.45 164.39)" dy="2.15" textLength="18.7" lengthAdjust="spacingAndGlyphs">085797</text>
<text class="o ol" x="21.96" y="163.63" transform="rotate(377.01 21.96 163.63)" dy="2.35" text-anchor="middle">o</text>
<text class="l" x="25.70" y="160.44" transform="rotate(378.12 25.70 160.44)" dy="2.15" textLength="18.4" lengthAdjust="spacingAndGlyphs">71423</text>
<text class="o ol" x="23.23" y="159.64" transform="rotate(378.12 23.23 159.64)" dy="2.35" text-anchor="middle">o</text>
<text class="l" x="27.02" y="156.52" transform="rotate(379.22 27.02 156.52)" dy="2.15" textLength="17.8" lengthAdjust="spacingAndGlyphs">22451</text>
<text class="o ol" x="24.57" y="155.66" transform="rotate(379.22 24.57 155.66)" dy="2.35" text-anchor="middle">o</text>
<text class="l" x="28.42" y="152.62" transform="rotate(380.32 28.42 152.62)" dy="2.15" textLength="18.4" lengthAdjust="spacingAndGlyphs">35090</text>
<text class="o ol" x="25.99" y="151.72" transform="rotate(380.32 25.99 151.72)" dy="2.35" text-anchor="middle">o</text>
<text class="l" x="29.90" y="148.75" transform="rotate(381.43 29.90 148.75)" dy="2.15" textLength="18.2" lengthAdjust="spacingAndGlyphs">18757</text>
<text class="o ol" x="27.48" y="147.80" transform="rotate(381.43 27.48 147.80)" dy="2.35" text-anchor="middle">o</text>
<text class="l" x="31.45" y="144.91" transform="rotate(382.53 31.45 144.91)" dy="2.15" textLength="18.4" lengthAdjust="spacingAndGlyphs">681111</text>
<text class="o ol" x="29.05" y="143.91" transform="rotate(382.53 29.05 143.91)" dy="2.35" text-anchor="middle">o</text>
<text class="l" x="33.08" y="141.10" transform="rotate(383.64 33.08 141.10)" dy="2.15" textLength="17.4" lengthAdjust="spacingAndGlyphs">41503</text>
<text class="o ol" x="30.69" y="140.06" transform="rotate(383.64 30.69 140.06)" dy="2.35" text-anchor="middle">o</text>
<text class="l" x="34.77" y="137.32" transform="rotate(384.74 34.77 137.32)" dy="2.15" textLength="18.9" lengthAdjust="spacingAndGlyphs">018357</text>
<text class="o ol" x="32.41" y="136.23" transform="rotate(384.74 32.41 136.23)" dy="2.35" text-anchor="middle">o</text>
<text class="l" x="36.54" y="133.58" transform="rotate(385.84 36.54 133.58)" dy="2.15" textLength="18.4" lengthAdjust="spacingAndGlyphs">450380</text>
<text class="o ol" x="34.20" y="132.44" transform="rotate(385.84 34.20 132.44)" dy="2.35" text-anchor="middle">o</text>
<text class="l" x="38.38" y="129.87" transform="rotate(386.95 38.38 129.87)" dy="2.15" textLength="18.6" lengthAdjust="spacingAndGlyphs">625788</text>
<text class="o ol" x="36.07" y="128.69" transform="rotate(386.95 36.07 128.69)" dy="2.35" text-anchor="middle">o</text>
<text class="l" x="40.30" y="126.19" transform="rotate(388.05 40.30 126.19)" dy="2.15" textLength="19.0" lengthAdjust="spacingAndGlyphs">294413</text>
<text class="o ol" x="38.00" y="124.97" transform="rotate(388.05 38.00 124.97)" dy="2.35" text-anchor="middle">o</text>
<text class="l" x="42.28" y="122.55" transform="rotate(389.16 42.28 122.55)" dy="2.15" textLength="18.5" lengthAdjust="spacingAndGlyphs">576388</text>
<text class="o ol" x="40.01" y="121.29" transform="rotate(389.16 40.01 121.29)" dy="2.35" text-anchor="middle">o</text>
<text class="l" x="44.33" y="118.96" transform="rotate(390.26 44.33 118.96)" dy="2.15" textLength="19.1" lengthAdjust="spacingAndGlyphs">524512</text>
<text class="o ol" x="42.09" y="117.65" transform="rotate(390.26 42.09 117.65)" dy="2.35" text-anchor="middle">o</text>
<text class="l" x="46.45" y="115.40" transform="rotate(391.36 46.45 115.40)" dy="2.15" textLength="19.1" lengthAdjust="spacingAndGlyphs">976863</text>
<text class="o ol" x="44.23" y="114.05" transform="rotate(391.36 44.23 114.05)" dy="2.35" text-anchor="middle">o</text>
<text class="l" x="48.64" y="111.88" transform="rotate(392.47 48.64 111.88)" dy="2.15" textLength="18.7" lengthAdjust="spacingAndGlyphs">095707</text>
<text class="o ol" x="46.45" y="110.49" transform="rotate(392.47 46.45 110.49)" dy="2.35" text-anchor="middle">o</text>
<text class="l" x="50.90" y="108.41" transform="rotate(393.57 50.90 108.41)" dy="2.15" textLength="19.0" lengthAdjust="spacingAndGlyphs">497887</text>
<text class="o ol" x="48.73" y="106.97" transform="rotate(393.57 48.73 106.97)" dy="2.35" text-anchor="middle">o</text>
<text class="l" x="53.22" y="104.98" transform="rotate(394.68 53.22 104.98)" dy="2.15" textLength="17.8" lengthAdjust="spacingAndGlyphs">41177</text>
<text class="o ol" x="51.09" y="103.50" transform="rotate(394.68 51.09 103.50)" dy="2.35" text-anchor="middle">o</text>
<text class="l" x="55.61" y="101.60" transform="rotate(395.78 55.61 101.60)" dy="2.15" textLength="17.7" lengthAdjust="spacingAndGlyphs">34289</text>
<text class="o ol" x="53.50" y="100.08" transform="rotate(395.78 53.50 100.08)" dy="2.35" text-anchor="middle">o</text>
<text class="l" x="58.07" y="98.26" transform="rotate(396.88 58.07 98.26)" dy="2.15" textLength="17.7" lengthAdjust="spacingAndGlyphs">33791</text>
<text class="o ol" x="55.99" y="96.70" transform="rotate(396.88 55.99 96.70)" dy="2.35" text-anchor="middle">o</text>
<text class="l" x="60.59" y="94.97" transform="rotate(397.99 60.59 94.97)" dy="2.15" textLength="17.7" lengthAdjust="spacingAndGlyphs">81057</text>
<text class="o ol" x="58.54" y="93.37" transform="rotate(397.99 58.54 93.37)" dy="2.35" text-anchor="middle">o</text>
<text class="l" x="63.17" y="91.73" transform="rotate(399.09 63.17 91.73)" dy="2.15" textLength="18.8" lengthAdjust="spacingAndGlyphs">054279</text>
<text class="o ol" x="61.15" y="90.09" transform="rotate(399.09 61.15 90.09)" dy="2.35" text-anchor="middle">o</text>
<text class="l" x="65.81" y="88.54" transform="rotate(400.19 65.81 88.54)" dy="2.15" textLength="18.8" lengthAdjust="spacingAndGlyphs">875313</text>
<text class="o ol" x="63.82" y="86.86" transform="rotate(400.19 63.82 86.86)" dy="2.35" text-anchor="middle">o</text>
<text class="l" x="68.51" y="85.40" transform="rotate(401.30 68.51 85.40)" dy="2.15" textLength="18.7" lengthAdjust="spacingAndGlyphs">815020</text>
<text class="o ol" x="66.56" y="83.69" transform="rotate(401.30 66.56 83.69)" dy="2.35" text-anchor="middle">o</text>
<text class="l" x="71.28" y="82.32" transform="rotate(402.40 71.28 82.32)" dy="2.15" textLength="18.9" lengthAdjust="spacingAndGlyphs">125937</text>
<text class="o ol" x="69.36" y="80.56" transform="rotate(402.40 69.36 80.56)" dy="2.35" text-anchor="middle">o</text>
<text class="l" x="74.10" y="79.29" transform="rotate(403.51 74.10 79.29)" dy="2.15" textLength="18.8" lengthAdjust="spacingAndGlyphs">008352</text>
<text class="o ol" x="72.21" y="77.50" transform="rotate(403.51 72.21 77.50)" dy="2.35" text-anchor="middle">o</text>
<text class="l" x="76.98" y="76.31" transform="rotate(404.61 76.98 76.31)" dy="2.15" textLength="18.7" lengthAdjust="spacingAndGlyphs">355962</text>
<text class="o ol" x="75.13" y="74.48" transform="rotate(404.61 75.13 74.48)" dy="2.35" text-anchor="middle">o</text>
<text class="l" x="79.92" y="73.39" transform="rotate(405.71 79.92 73.39)" dy="2.15" textLength="19.2" lengthAdjust="spacingAndGlyphs">076091</text>
<text class="o ol" x="78.10" y="71.53" transform="rotate(405.71 78.10 71.53)" dy="2.35" text-anchor="middle">o</text>
<text class="l" x="82.91" y="70.53" transform="rotate(406.82 82.91 70.53)" dy="2.15" textLength="19.2" lengthAdjust="spacingAndGlyphs">645102</text>
<text class="o ol" x="81.13" y="68.63" transform="rotate(406.82 81.13 68.63)" dy="2.35" text-anchor="middle">o</text>
<text class="l" x="85.96" y="67.72" transform="rotate(407.92 85.96 67.72)" dy="2.15" textLength="18.1" lengthAdjust="spacingAndGlyphs">60663</text>
<text class="o ol" x="84.22" y="65.79" transform="rotate(407.92 84.22 65.79)" dy="2.35" text-anchor="middle">o</text>
<text class="l" x="89.06" y="64.97" transform="rotate(409.03 89.06 64.97)" dy="2.15" textLength="19.1" lengthAdjust="spacingAndGlyphs">045265</text>
<text class="o ol" x="87.35" y="63.01" transform="rotate(409.03 87.35 63.01)" dy="2.35" text-anchor="middle">o</text>
<text class="l" x="92.21" y="62.29" transform="rotate(410.13 92.21 62.29)" dy="2.15" textLength="18.1" lengthAdjust="spacingAndGlyphs">39583</text>
<text class="o ol" x="90.55" y="60.29" transform="rotate(410.13 90.55 60.29)" dy="2.35" text-anchor="middle">o</text>
<text class="l" x="95.42" y="59.66" transform="rotate(411.23 95.42 59.66)" dy="2.15" textLength="18.6" lengthAdjust="spacingAndGlyphs">554923</text>
<text class="o ol" x="93.79" y="57.64" transform="rotate(411.23 93.79 57.64)" dy="2.35" text-anchor="middle">o</text>
<text class="l" x="98.67" y="57.10" transform="rotate(412.34 98.67 57.10)" dy="2.15" textLength="17.5" lengthAdjust="spacingAndGlyphs">32743</text>
<text class="o ol" x="97.08" y="55.04" transform="rotate(412.34 97.08 55.04)" dy="2.35" text-anchor="middle">o</text>
<text class="l" x="101.98" y="54.60" transform="rotate(413.44 101.98 54.60)" dy="2.15" textLength="19.2" lengthAdjust="spacingAndGlyphs">897264</text>
<text class="o ol" x="100.43" y="52.51" transform="rotate(413.44 100.43 52.51)" dy="2.35" text-anchor="middle">o</text>
<text class="l" x="105.33" y="52.17" transform="rotate(414.55 105.33 52.17)" dy="2.15" textLength="19.1" lengthAdjust="spacingAndGlyphs">613613</text>
<text class="o ol" x="103.82" y="50.05" transform="rotate(414.55 103.82 50.05)" dy="2.35" text-anchor="middle">o</text>
<text class="l" x="108.72" y="49.80" transform="rotate(415.65 108.72 49.80)" dy="2.15" textLength="19.0" lengthAdjust="spacingAndGlyphs">554468</text>
<text class="o ol" x="107.26" y="47.65" transform="rotate(415.65 107.26 47.65)" dy="2.35" text-anchor="middle">o</text>
<text class="l" x="112.17" y="47.49" transform="rotate(416.75 112.17 47.49)" dy="2.15" textLength="18.3" lengthAdjust="spacingAndGlyphs">58145</text>
<text class="o ol" x="110.74" y="45.32" transform="rotate(416.75 110.74 45.32)" dy="2.35" text-anchor="middle">o</text>
<text class="l" x="115.65" y="45.25" transform="rotate(417.86 115.65 45.25)" dy="2.15" textLength="18.4" lengthAdjust="spacingAndGlyphs">336338</text>
<text class="o ol" x="114.27" y="43.05" transform="rotate(417.86 114.27 43.05)" dy="2.35" text-anchor="middle">o</text>
<text class="l" x="119.18" y="43.08" transform="rotate(418.96 119.18 43.08)" dy="2.15" textLength="18.8" lengthAdjust="spacingAndGlyphs">473118</text>
<text class="o ol" x="117.84" y="40.86" transform="rotate(418.96 117.84 40.86)" dy="2.35" text-anchor="middle">o</text>
<text class="l" x="122.75" y="40.98" transform="rotate(420.06 122.75 40.98)" dy="2.15" textLength="18.0" lengthAdjust="spacingAndGlyphs">96098</text>
<text class="o ol" x="121.45" y="38.73" transform="rotate(420.06 121.45 38.73)" dy="2.35" text-anchor="middle">o</text>
<text class="l" x="126.36" y="38.95" transform="rotate(421.17 126.36 38.95)" dy="2.15" textLength="18.5" lengthAdjust="spacingAndGlyphs">495282</text>
<text class="o ol" x="125.11" y="36.67" transform="rotate(421.17 125.11 36.67)" dy="2.35" text-anchor="middle">o</text>
<text class="l" x="130.01" y="36.99" transform="rotate(422.27 130.01 36.99)" dy="2.15" textLength="17.6" lengthAdjust="spacingAndGlyphs">76483</text>
<text class="o ol" x="128.80" y="34.69" transform="rotate(422.27 128.80 34.69)" dy="2.35" text-anchor="middle">o</text>
<text class="l" x="133.69" y="35.10" transform="rotate(423.38 133.69 35.10)" dy="2.15" textLength="18.9" lengthAdjust="spacingAndGlyphs">713509</text>
<text class="o ol" x="132.53" y="32.77" transform="rotate(423.38 132.53 32.77)" dy="2.35" text-anchor="middle">o</text>
<text class="l" x="137.41" y="33.28" transform="rotate(424.48 137.41 33.28)" dy="2.15" textLength="17.8" lengthAdjust="spacingAndGlyphs">86619</text>
<text class="o ol" x="136.29" y="30.93" transform="rotate(424.48 136.29 30.93)" dy="2.35" text-anchor="middle">o</text>
<text class="l" x="141.17" y="31.53" transform="rotate(425.58 141.17 31.53)" dy="2.15" textLength="19.2" lengthAdjust="spacingAndGlyphs">459617</text>
<text class="o ol" x="140.09" y="29.16" transform="rotate(425.58 140.09 29.16)" dy="2.35" text-anchor="middle">o</text>
<text class="l" x="144.96" y="29.85" transform="rotate(426.69 144.96 29.85)" dy="2.15" textLength="17.5" lengthAdjust="spacingAndGlyphs">47148</text>
<text class="o ol" x="143.93" y="27.46" transform="rotate(426.69 143.93 27.46)" dy="2.35" text-anchor="middle">o</text>
<text class="l" x="148.78" y="28.25" transform="rotate(427.79 148.78 28.25)" dy="2.15" textLength="18.0" lengthAdjust="spacingAndGlyphs">98543</text>
<text class="o ol" x="147.79" y="25.84" transform="rotate(427.79 147.79 25.84)" dy="2.35" text-anchor="middle">o</text>
<text class="l" x="152.63" y="26.72" transform="rotate(428.90 152.63 26.72)" dy="2.15" textLength="18.4" lengthAdjust="spacingAndGlyphs">601902</text>
<text class="o ol" x="151.69" y="24.29" transform="rotate(428.90 151.69 24.29)" dy="2.35" text-anchor="middle">o</text>
<text class="l" x="156.50" y="25.27" transform="rotate(430.00 156.50 25.27)" dy="2.15" textLength="18.2" lengthAdjust="spacingAndGlyphs">13528</text>
<text class="o ol" x="155.61" y="22.82" transform="rotate(430.00 155.61 22.82)" dy="2.35" text-anchor="middle">o</text>
</g>
<text class="lab" x="211.3" y="176.8">Ungrouped</text>
<text class="lab" x="203.5" y="199.4">Group 1</text>
<text class="lab" x="191.4" y="246.4">Group 2</text>
<g stroke="#111" stroke-width="1.3">
<rect x="7.6" y="438.4" width="19.0" height="14.8" fill="#ff0000"/>
<rect x="7.6" y="456.5" width="19.0" height="14.8" fill="#ffff00"/>
<rect x="7.6" y="474.6" width="19.0" height="14.8" fill="#00ff00"/>
<rect x="7.6" y="492.7" width="19.0" height="14.8" fill="#00ffff"/>
<rect x="7.6" y="510.8" width="19.0" height="14.8" fill="#0000ff"/>
<rect x="7.6" y="528.9" width="19.0" height="14.8" fill="#ff00ff"/>
</g>
<text class="leg" x="30.3" y="449.5">Uttarakhand</text>
<text class="leg" x="30.3" y="467.6">West Bengal</text>
<text class="leg" x="30.3" y="485.7">Uttar Pradesh</text>
<text class="leg" x="30.3" y="503.8">Andaman</text>
<text class="leg" x="30.3" y="521.9">Jharkhand</text>
<text class="leg" x="30.3" y="540.0">Chhattisgarh</text>
</svg>
</body></html>
